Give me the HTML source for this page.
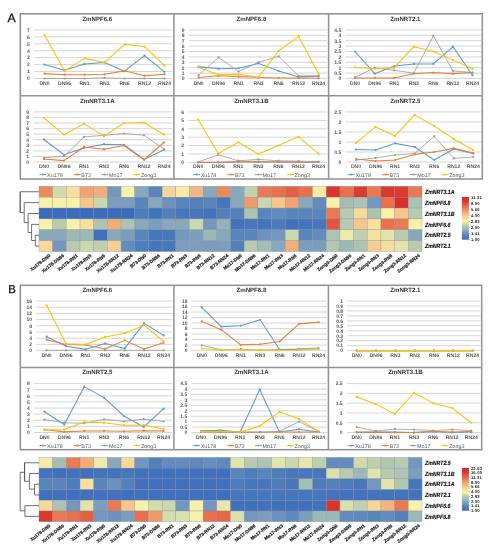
<!DOCTYPE html><html><head><meta charset="utf-8"><style>
html,body{margin:0;padding:0;background:#fff;width:492px;height:550px;overflow:hidden}
svg{display:block;will-change:transform}
text{font-family:"Liberation Sans", sans-serif;text-rendering:geometricPrecision}
.ttl{font-size:6.1px;font-weight:bold;fill:#333;text-anchor:middle}
.grid{stroke:#d3d3d3;stroke-width:0.95}
.yl{font-size:5px;fill:#595959;text-anchor:end;font-weight:bold}
.xl{font-size:5.1px;fill:#595959;text-anchor:middle;font-weight:bold}
.lg{font-size:5.4px;fill:#595959}
.rl{font-size:6px;font-weight:bold;font-style:italic;fill:#111;stroke:#111;stroke-width:0.15}
.cl{font-size:4.6px;font-weight:bold;fill:#222;text-anchor:end;stroke:#222;stroke-width:0.2}
.bl{font-size:4.2px;font-weight:bold;fill:#222;letter-spacing:0.15px}
.big{font-size:12.3px;fill:#111;stroke:#111;stroke-width:0.3}
.box{fill:none;stroke:#939393;stroke-width:1.55}
</style></head><body>
<svg width="492" height="550" viewBox="0 0 492 550">
<text x="7.6" y="22.2" class="big">A</text>
<text x="8.3" y="292.8" class="big" style="font-size:11.3px">B</text>
<rect x="20.3" y="13.8" width="462" height="165.2" class="box"/>
<line x1="173.9" y1="13.8" x2="173.9" y2="179" class="box"/>
<line x1="328.6" y1="13.8" x2="328.6" y2="179" class="box"/>
<line x1="20.3" y1="95.8" x2="482.3" y2="95.8" class="box"/>
<text x="97.3" y="21.1" class="ttl">ZmNPF6.6</text>
<line x1="34.0" y1="78.50" x2="172.3" y2="78.50" class="grid"/>
<text x="29.80" y="80.30" class="yl">0</text>
<line x1="34.0" y1="71.56" x2="172.3" y2="71.56" class="grid"/>
<text x="29.80" y="73.36" class="yl">1</text>
<line x1="34.0" y1="64.61" x2="172.3" y2="64.61" class="grid"/>
<text x="29.80" y="66.41" class="yl">2</text>
<line x1="34.0" y1="57.67" x2="172.3" y2="57.67" class="grid"/>
<text x="29.80" y="59.47" class="yl">3</text>
<line x1="34.0" y1="50.73" x2="172.3" y2="50.73" class="grid"/>
<text x="29.80" y="52.53" class="yl">4</text>
<line x1="34.0" y1="43.79" x2="172.3" y2="43.79" class="grid"/>
<text x="29.80" y="45.59" class="yl">5</text>
<line x1="34.0" y1="36.84" x2="172.3" y2="36.84" class="grid"/>
<text x="29.80" y="38.64" class="yl">6</text>
<line x1="34.0" y1="29.90" x2="172.3" y2="29.90" class="grid"/>
<text x="29.80" y="31.70" class="yl">7</text>
<text x="44.50" y="85.10" class="xl">DN0</text>
<text x="64.50" y="85.10" class="xl">DN96</text>
<text x="84.50" y="85.10" class="xl">RN1</text>
<text x="104.50" y="85.10" class="xl">RN3</text>
<text x="124.50" y="85.10" class="xl">RN6</text>
<text x="144.50" y="85.10" class="xl">RN12</text>
<text x="164.50" y="85.10" class="xl">RN24</text>
<polyline points="44.50,64.61 64.50,70.17 84.50,63.92 104.50,62.53 124.50,71.21 144.50,55.59 164.50,71.90" fill="none" stroke="#5b9bd5" stroke-width="1.05" stroke-linejoin="round"/>
<circle cx="44.50" cy="64.61" r="1.1" fill="#5b9bd5"/>
<circle cx="64.50" cy="70.17" r="1.1" fill="#5b9bd5"/>
<circle cx="84.50" cy="63.92" r="1.1" fill="#5b9bd5"/>
<circle cx="104.50" cy="62.53" r="1.1" fill="#5b9bd5"/>
<circle cx="124.50" cy="71.21" r="1.1" fill="#5b9bd5"/>
<circle cx="144.50" cy="55.59" r="1.1" fill="#5b9bd5"/>
<circle cx="164.50" cy="71.90" r="1.1" fill="#5b9bd5"/>
<polyline points="44.50,73.64 64.50,74.68 84.50,74.68 104.50,74.33 124.50,70.86 144.50,75.72 164.50,74.33" fill="none" stroke="#ed7d31" stroke-width="1.05" stroke-linejoin="round"/>
<circle cx="44.50" cy="73.64" r="1.1" fill="#ed7d31"/>
<circle cx="64.50" cy="74.68" r="1.1" fill="#ed7d31"/>
<circle cx="84.50" cy="74.68" r="1.1" fill="#ed7d31"/>
<circle cx="104.50" cy="74.33" r="1.1" fill="#ed7d31"/>
<circle cx="124.50" cy="70.86" r="1.1" fill="#ed7d31"/>
<circle cx="144.50" cy="75.72" r="1.1" fill="#ed7d31"/>
<circle cx="164.50" cy="74.33" r="1.1" fill="#ed7d31"/>
<polyline points="44.50,78.50 64.50,78.50 84.50,78.50 104.50,77.81 124.50,78.50 144.50,78.50 164.50,78.50" fill="none" stroke="#999999" stroke-width="0.8" stroke-linejoin="round"/>
<circle cx="44.50" cy="78.50" r="1.1" fill="#999999"/>
<circle cx="64.50" cy="78.50" r="1.1" fill="#999999"/>
<circle cx="84.50" cy="78.50" r="1.1" fill="#999999"/>
<circle cx="104.50" cy="77.81" r="1.1" fill="#999999"/>
<circle cx="124.50" cy="78.50" r="1.1" fill="#999999"/>
<circle cx="144.50" cy="78.50" r="1.1" fill="#999999"/>
<circle cx="164.50" cy="78.50" r="1.1" fill="#999999"/>
<polyline points="44.50,34.76 64.50,70.86 84.50,58.37 104.50,62.53 124.50,44.48 144.50,46.56 164.50,65.66" fill="none" stroke="#ffc000" stroke-width="1.05" stroke-linejoin="round"/>
<circle cx="44.50" cy="34.76" r="1.1" fill="#ffc000"/>
<circle cx="64.50" cy="70.86" r="1.1" fill="#ffc000"/>
<circle cx="84.50" cy="58.37" r="1.1" fill="#ffc000"/>
<circle cx="104.50" cy="62.53" r="1.1" fill="#ffc000"/>
<circle cx="124.50" cy="44.48" r="1.1" fill="#ffc000"/>
<circle cx="144.50" cy="46.56" r="1.1" fill="#ffc000"/>
<circle cx="164.50" cy="65.66" r="1.1" fill="#ffc000"/>
<text x="251.4" y="21.1" class="ttl">ZmNPF6.8</text>
<line x1="188.8" y1="78.50" x2="327.2" y2="78.50" class="grid"/>
<text x="184.60" y="80.30" class="yl">0</text>
<line x1="188.8" y1="73.10" x2="327.2" y2="73.10" class="grid"/>
<text x="184.60" y="74.90" class="yl">1</text>
<line x1="188.8" y1="67.70" x2="327.2" y2="67.70" class="grid"/>
<text x="184.60" y="69.50" class="yl">2</text>
<line x1="188.8" y1="62.30" x2="327.2" y2="62.30" class="grid"/>
<text x="184.60" y="64.10" class="yl">3</text>
<line x1="188.8" y1="56.90" x2="327.2" y2="56.90" class="grid"/>
<text x="184.60" y="58.70" class="yl">4</text>
<line x1="188.8" y1="51.50" x2="327.2" y2="51.50" class="grid"/>
<text x="184.60" y="53.30" class="yl">5</text>
<line x1="188.8" y1="46.10" x2="327.2" y2="46.10" class="grid"/>
<text x="184.60" y="47.90" class="yl">6</text>
<line x1="188.8" y1="40.70" x2="327.2" y2="40.70" class="grid"/>
<text x="184.60" y="42.50" class="yl">7</text>
<line x1="188.8" y1="35.30" x2="327.2" y2="35.30" class="grid"/>
<text x="184.60" y="37.10" class="yl">8</text>
<line x1="188.8" y1="29.90" x2="327.2" y2="29.90" class="grid"/>
<text x="184.60" y="31.70" class="yl">9</text>
<text x="198.60" y="85.10" class="xl">DN0</text>
<text x="218.60" y="85.10" class="xl">DN96</text>
<text x="238.60" y="85.10" class="xl">RN1</text>
<text x="258.60" y="85.10" class="xl">RN3</text>
<text x="278.60" y="85.10" class="xl">RN6</text>
<text x="298.60" y="85.10" class="xl">RN12</text>
<text x="318.60" y="85.10" class="xl">RN24</text>
<polyline points="198.60,66.62 218.60,68.78 238.60,68.24 258.60,63.38 278.60,70.94 298.60,76.88 318.60,76.34" fill="none" stroke="#5b9bd5" stroke-width="1.05" stroke-linejoin="round"/>
<circle cx="198.60" cy="66.62" r="1.1" fill="#5b9bd5"/>
<circle cx="218.60" cy="68.78" r="1.1" fill="#5b9bd5"/>
<circle cx="238.60" cy="68.24" r="1.1" fill="#5b9bd5"/>
<circle cx="258.60" cy="63.38" r="1.1" fill="#5b9bd5"/>
<circle cx="278.60" cy="70.94" r="1.1" fill="#5b9bd5"/>
<circle cx="298.60" cy="76.88" r="1.1" fill="#5b9bd5"/>
<circle cx="318.60" cy="76.34" r="1.1" fill="#5b9bd5"/>
<polyline points="198.60,77.42 218.60,75.80 238.60,76.61 258.60,77.42 278.60,77.96 298.60,77.96 318.60,78.23" fill="none" stroke="#ed7d31" stroke-width="1.05" stroke-linejoin="round"/>
<circle cx="198.60" cy="77.42" r="1.1" fill="#ed7d31"/>
<circle cx="218.60" cy="75.80" r="1.1" fill="#ed7d31"/>
<circle cx="238.60" cy="76.61" r="1.1" fill="#ed7d31"/>
<circle cx="258.60" cy="77.42" r="1.1" fill="#ed7d31"/>
<circle cx="278.60" cy="77.96" r="1.1" fill="#ed7d31"/>
<circle cx="298.60" cy="77.96" r="1.1" fill="#ed7d31"/>
<circle cx="318.60" cy="78.23" r="1.1" fill="#ed7d31"/>
<polyline points="198.60,75.26 218.60,57.44 238.60,71.48 258.60,62.30 278.60,56.36 298.60,75.80 318.60,75.80" fill="none" stroke="#999999" stroke-width="0.8" stroke-linejoin="round"/>
<circle cx="198.60" cy="75.26" r="1.1" fill="#999999"/>
<circle cx="218.60" cy="57.44" r="1.1" fill="#999999"/>
<circle cx="238.60" cy="71.48" r="1.1" fill="#999999"/>
<circle cx="258.60" cy="62.30" r="1.1" fill="#999999"/>
<circle cx="278.60" cy="56.36" r="1.1" fill="#999999"/>
<circle cx="298.60" cy="75.80" r="1.1" fill="#999999"/>
<circle cx="318.60" cy="75.80" r="1.1" fill="#999999"/>
<polyline points="198.60,67.16 218.60,74.72 238.60,74.18 258.60,77.15 278.60,50.96 298.60,36.38 318.60,73.64" fill="none" stroke="#ffc000" stroke-width="1.05" stroke-linejoin="round"/>
<circle cx="198.60" cy="67.16" r="1.1" fill="#ffc000"/>
<circle cx="218.60" cy="74.72" r="1.1" fill="#ffc000"/>
<circle cx="238.60" cy="74.18" r="1.1" fill="#ffc000"/>
<circle cx="258.60" cy="77.15" r="1.1" fill="#ffc000"/>
<circle cx="278.60" cy="50.96" r="1.1" fill="#ffc000"/>
<circle cx="298.60" cy="36.38" r="1.1" fill="#ffc000"/>
<circle cx="318.60" cy="73.64" r="1.1" fill="#ffc000"/>
<text x="405.4" y="21.1" class="ttl">ZmNRT2.1</text>
<line x1="345.4" y1="78.50" x2="481.3" y2="78.50" class="grid"/>
<text x="341.20" y="80.30" class="yl">0</text>
<line x1="345.4" y1="73.10" x2="481.3" y2="73.10" class="grid"/>
<text x="341.20" y="74.90" class="yl">0.5</text>
<line x1="345.4" y1="67.70" x2="481.3" y2="67.70" class="grid"/>
<text x="341.20" y="69.50" class="yl">1</text>
<line x1="345.4" y1="62.30" x2="481.3" y2="62.30" class="grid"/>
<text x="341.20" y="64.10" class="yl">1.5</text>
<line x1="345.4" y1="56.90" x2="481.3" y2="56.90" class="grid"/>
<text x="341.20" y="58.70" class="yl">2</text>
<line x1="345.4" y1="51.50" x2="481.3" y2="51.50" class="grid"/>
<text x="341.20" y="53.30" class="yl">2.5</text>
<line x1="345.4" y1="46.10" x2="481.3" y2="46.10" class="grid"/>
<text x="341.20" y="47.90" class="yl">3</text>
<line x1="345.4" y1="40.70" x2="481.3" y2="40.70" class="grid"/>
<text x="341.20" y="42.50" class="yl">3.5</text>
<line x1="345.4" y1="35.30" x2="481.3" y2="35.30" class="grid"/>
<text x="341.20" y="37.10" class="yl">4</text>
<line x1="345.4" y1="29.90" x2="481.3" y2="29.90" class="grid"/>
<text x="341.20" y="31.70" class="yl">4.5</text>
<text x="355.10" y="85.10" class="xl">DN0</text>
<text x="374.67" y="85.10" class="xl">DN96</text>
<text x="394.24" y="85.10" class="xl">RN1</text>
<text x="413.81" y="85.10" class="xl">RN3</text>
<text x="433.38" y="85.10" class="xl">RN6</text>
<text x="452.95" y="85.10" class="xl">RN12</text>
<text x="472.52" y="85.10" class="xl">RN24</text>
<polyline points="355.10,51.50 374.67,73.64 394.24,66.08 413.81,63.92 433.38,63.92 452.95,46.64 472.52,75.26" fill="none" stroke="#5b9bd5" stroke-width="1.05" stroke-linejoin="round"/>
<circle cx="355.10" cy="51.50" r="1.1" fill="#5b9bd5"/>
<circle cx="374.67" cy="73.64" r="1.1" fill="#5b9bd5"/>
<circle cx="394.24" cy="66.08" r="1.1" fill="#5b9bd5"/>
<circle cx="413.81" cy="63.92" r="1.1" fill="#5b9bd5"/>
<circle cx="433.38" cy="63.92" r="1.1" fill="#5b9bd5"/>
<circle cx="452.95" cy="46.64" r="1.1" fill="#5b9bd5"/>
<circle cx="472.52" cy="75.26" r="1.1" fill="#5b9bd5"/>
<polyline points="355.10,77.96 374.67,77.96 394.24,77.96 413.81,73.64 433.38,72.56 452.95,73.64 472.52,72.56" fill="none" stroke="#ed7d31" stroke-width="1.05" stroke-linejoin="round"/>
<circle cx="355.10" cy="77.96" r="1.1" fill="#ed7d31"/>
<circle cx="374.67" cy="77.96" r="1.1" fill="#ed7d31"/>
<circle cx="394.24" cy="77.96" r="1.1" fill="#ed7d31"/>
<circle cx="413.81" cy="73.64" r="1.1" fill="#ed7d31"/>
<circle cx="433.38" cy="72.56" r="1.1" fill="#ed7d31"/>
<circle cx="452.95" cy="73.64" r="1.1" fill="#ed7d31"/>
<circle cx="472.52" cy="72.56" r="1.1" fill="#ed7d31"/>
<polyline points="355.10,77.42 374.67,67.70 394.24,70.40 413.81,73.10 433.38,35.84 452.95,70.94 472.52,72.56" fill="none" stroke="#999999" stroke-width="0.8" stroke-linejoin="round"/>
<circle cx="355.10" cy="77.42" r="1.1" fill="#999999"/>
<circle cx="374.67" cy="67.70" r="1.1" fill="#999999"/>
<circle cx="394.24" cy="70.40" r="1.1" fill="#999999"/>
<circle cx="413.81" cy="73.10" r="1.1" fill="#999999"/>
<circle cx="433.38" cy="35.84" r="1.1" fill="#999999"/>
<circle cx="452.95" cy="70.94" r="1.1" fill="#999999"/>
<circle cx="472.52" cy="72.56" r="1.1" fill="#999999"/>
<polyline points="355.10,67.16 374.67,68.78 394.24,67.70 413.81,46.64 433.38,51.50 452.95,60.14 472.52,68.78" fill="none" stroke="#ffc000" stroke-width="1.05" stroke-linejoin="round"/>
<circle cx="355.10" cy="67.16" r="1.1" fill="#ffc000"/>
<circle cx="374.67" cy="68.78" r="1.1" fill="#ffc000"/>
<circle cx="394.24" cy="67.70" r="1.1" fill="#ffc000"/>
<circle cx="413.81" cy="46.64" r="1.1" fill="#ffc000"/>
<circle cx="433.38" cy="51.50" r="1.1" fill="#ffc000"/>
<circle cx="452.95" cy="60.14" r="1.1" fill="#ffc000"/>
<circle cx="472.52" cy="68.78" r="1.1" fill="#ffc000"/>
<text x="97.3" y="103.3" class="ttl">ZmNRT3.1A</text>
<line x1="33.3" y1="162.00" x2="172.3" y2="162.00" class="grid"/>
<text x="29.10" y="163.80" class="yl">0</text>
<line x1="33.3" y1="156.43" x2="172.3" y2="156.43" class="grid"/>
<text x="29.10" y="158.23" class="yl">1</text>
<line x1="33.3" y1="150.87" x2="172.3" y2="150.87" class="grid"/>
<text x="29.10" y="152.67" class="yl">2</text>
<line x1="33.3" y1="145.30" x2="172.3" y2="145.30" class="grid"/>
<text x="29.10" y="147.10" class="yl">3</text>
<line x1="33.3" y1="139.73" x2="172.3" y2="139.73" class="grid"/>
<text x="29.10" y="141.53" class="yl">4</text>
<line x1="33.3" y1="134.17" x2="172.3" y2="134.17" class="grid"/>
<text x="29.10" y="135.97" class="yl">5</text>
<line x1="33.3" y1="128.60" x2="172.3" y2="128.60" class="grid"/>
<text x="29.10" y="130.40" class="yl">6</text>
<line x1="33.3" y1="123.03" x2="172.3" y2="123.03" class="grid"/>
<text x="29.10" y="124.83" class="yl">7</text>
<line x1="33.3" y1="117.47" x2="172.3" y2="117.47" class="grid"/>
<text x="29.10" y="119.27" class="yl">8</text>
<line x1="33.3" y1="111.90" x2="172.3" y2="111.90" class="grid"/>
<text x="29.10" y="113.70" class="yl">9</text>
<text x="44.00" y="168.10" class="xl">DN0</text>
<text x="64.00" y="168.10" class="xl">DN96</text>
<text x="84.00" y="168.10" class="xl">RN1</text>
<text x="104.00" y="168.10" class="xl">RN3</text>
<text x="124.00" y="168.10" class="xl">RN6</text>
<text x="144.00" y="168.10" class="xl">RN12</text>
<text x="164.00" y="168.10" class="xl">RN24</text>
<polyline points="44.00,139.46 64.00,154.76 84.00,148.08 104.00,144.19 124.00,144.74 144.00,159.50 164.00,149.75" fill="none" stroke="#5b9bd5" stroke-width="1.05" stroke-linejoin="round"/>
<circle cx="44.00" cy="139.46" r="1.1" fill="#5b9bd5"/>
<circle cx="64.00" cy="154.76" r="1.1" fill="#5b9bd5"/>
<circle cx="84.00" cy="148.08" r="1.1" fill="#5b9bd5"/>
<circle cx="104.00" cy="144.19" r="1.1" fill="#5b9bd5"/>
<circle cx="124.00" cy="144.74" r="1.1" fill="#5b9bd5"/>
<circle cx="144.00" cy="159.50" r="1.1" fill="#5b9bd5"/>
<circle cx="164.00" cy="149.75" r="1.1" fill="#5b9bd5"/>
<polyline points="44.00,158.94 64.00,160.61 84.00,146.97 104.00,149.20 124.00,145.58 144.00,159.77 164.00,142.52" fill="none" stroke="#ed7d31" stroke-width="1.05" stroke-linejoin="round"/>
<circle cx="44.00" cy="158.94" r="1.1" fill="#ed7d31"/>
<circle cx="64.00" cy="160.61" r="1.1" fill="#ed7d31"/>
<circle cx="84.00" cy="146.97" r="1.1" fill="#ed7d31"/>
<circle cx="104.00" cy="149.20" r="1.1" fill="#ed7d31"/>
<circle cx="124.00" cy="145.58" r="1.1" fill="#ed7d31"/>
<circle cx="144.00" cy="159.77" r="1.1" fill="#ed7d31"/>
<circle cx="164.00" cy="142.52" r="1.1" fill="#ed7d31"/>
<polyline points="44.00,157.82 64.00,156.16 84.00,136.95 104.00,135.28 124.00,133.61 144.00,135.28 164.00,149.20" fill="none" stroke="#999999" stroke-width="0.8" stroke-linejoin="round"/>
<circle cx="44.00" cy="157.82" r="1.1" fill="#999999"/>
<circle cx="64.00" cy="156.16" r="1.1" fill="#999999"/>
<circle cx="84.00" cy="136.95" r="1.1" fill="#999999"/>
<circle cx="104.00" cy="135.28" r="1.1" fill="#999999"/>
<circle cx="124.00" cy="133.61" r="1.1" fill="#999999"/>
<circle cx="144.00" cy="135.28" r="1.1" fill="#999999"/>
<circle cx="164.00" cy="149.20" r="1.1" fill="#999999"/>
<polyline points="44.00,118.02 64.00,134.72 84.00,123.59 104.00,136.39 124.00,123.03 144.00,122.48 164.00,134.72" fill="none" stroke="#ffc000" stroke-width="1.05" stroke-linejoin="round"/>
<circle cx="44.00" cy="118.02" r="1.1" fill="#ffc000"/>
<circle cx="64.00" cy="134.72" r="1.1" fill="#ffc000"/>
<circle cx="84.00" cy="123.59" r="1.1" fill="#ffc000"/>
<circle cx="104.00" cy="136.39" r="1.1" fill="#ffc000"/>
<circle cx="124.00" cy="123.03" r="1.1" fill="#ffc000"/>
<circle cx="144.00" cy="122.48" r="1.1" fill="#ffc000"/>
<circle cx="164.00" cy="134.72" r="1.1" fill="#ffc000"/>
<line x1="39.40" y1="174.6" x2="46.40" y2="174.6" stroke="#5b9bd5" stroke-width="1"/>
<circle cx="42.90" cy="174.6" r="1" fill="#5b9bd5"/>
<text x="47.10" y="176.50" class="lg">Xu178</text>
<line x1="73.70" y1="174.6" x2="80.70" y2="174.6" stroke="#ed7d31" stroke-width="1"/>
<circle cx="77.20" cy="174.6" r="1" fill="#ed7d31"/>
<text x="81.30" y="176.50" class="lg">B73</text>
<line x1="101.40" y1="174.6" x2="108.40" y2="174.6" stroke="#999999" stroke-width="1"/>
<circle cx="104.90" cy="174.6" r="1" fill="#999999"/>
<text x="109.00" y="176.50" class="lg">Mo17</text>
<line x1="133.40" y1="174.6" x2="140.40" y2="174.6" stroke="#ffc000" stroke-width="1"/>
<circle cx="136.90" cy="174.6" r="1" fill="#ffc000"/>
<text x="141.00" y="176.50" class="lg">Zong3</text>
<text x="251.4" y="103.3" class="ttl">ZmNRT3.1B</text>
<line x1="188.3" y1="162.40" x2="327.2" y2="162.40" class="grid"/>
<text x="184.10" y="164.20" class="yl">0</text>
<line x1="188.3" y1="154.00" x2="327.2" y2="154.00" class="grid"/>
<text x="184.10" y="155.80" class="yl">1</text>
<line x1="188.3" y1="145.60" x2="327.2" y2="145.60" class="grid"/>
<text x="184.10" y="147.40" class="yl">2</text>
<line x1="188.3" y1="137.20" x2="327.2" y2="137.20" class="grid"/>
<text x="184.10" y="139.00" class="yl">3</text>
<line x1="188.3" y1="128.80" x2="327.2" y2="128.80" class="grid"/>
<text x="184.10" y="130.60" class="yl">4</text>
<line x1="188.3" y1="120.40" x2="327.2" y2="120.40" class="grid"/>
<text x="184.10" y="122.20" class="yl">5</text>
<line x1="188.3" y1="112.00" x2="327.2" y2="112.00" class="grid"/>
<text x="184.10" y="113.80" class="yl">6</text>
<text x="198.20" y="168.10" class="xl">DN0</text>
<text x="218.25" y="168.10" class="xl">DN96</text>
<text x="238.30" y="168.10" class="xl">RN1</text>
<text x="258.35" y="168.10" class="xl">RN3</text>
<text x="278.40" y="168.10" class="xl">RN6</text>
<text x="298.45" y="168.10" class="xl">RN12</text>
<text x="318.50" y="168.10" class="xl">RN24</text>
<polyline points="198.20,162.40 218.25,162.40 238.30,161.98 258.35,161.98 278.40,161.98 298.45,161.98 318.50,161.98" fill="none" stroke="#5b9bd5" stroke-width="1.05" stroke-linejoin="round"/>
<circle cx="198.20" cy="162.40" r="1.1" fill="#5b9bd5"/>
<circle cx="218.25" cy="162.40" r="1.1" fill="#5b9bd5"/>
<circle cx="238.30" cy="161.98" r="1.1" fill="#5b9bd5"/>
<circle cx="258.35" cy="161.98" r="1.1" fill="#5b9bd5"/>
<circle cx="278.40" cy="161.98" r="1.1" fill="#5b9bd5"/>
<circle cx="298.45" cy="161.98" r="1.1" fill="#5b9bd5"/>
<circle cx="318.50" cy="161.98" r="1.1" fill="#5b9bd5"/>
<polyline points="198.20,162.23 218.25,162.23 238.30,161.56 258.35,161.56 278.40,161.98 298.45,161.98 318.50,161.98" fill="none" stroke="#ed7d31" stroke-width="1.05" stroke-linejoin="round"/>
<circle cx="198.20" cy="162.23" r="1.1" fill="#ed7d31"/>
<circle cx="218.25" cy="162.23" r="1.1" fill="#ed7d31"/>
<circle cx="238.30" cy="161.56" r="1.1" fill="#ed7d31"/>
<circle cx="258.35" cy="161.56" r="1.1" fill="#ed7d31"/>
<circle cx="278.40" cy="161.98" r="1.1" fill="#ed7d31"/>
<circle cx="298.45" cy="161.98" r="1.1" fill="#ed7d31"/>
<circle cx="318.50" cy="161.98" r="1.1" fill="#ed7d31"/>
<polyline points="198.20,161.98 218.25,154.84 238.30,160.72 258.35,159.46 278.40,160.72 298.45,161.14 318.50,161.56" fill="none" stroke="#999999" stroke-width="0.8" stroke-linejoin="round"/>
<circle cx="198.20" cy="161.98" r="1.1" fill="#999999"/>
<circle cx="218.25" cy="154.84" r="1.1" fill="#999999"/>
<circle cx="238.30" cy="160.72" r="1.1" fill="#999999"/>
<circle cx="258.35" cy="159.46" r="1.1" fill="#999999"/>
<circle cx="278.40" cy="160.72" r="1.1" fill="#999999"/>
<circle cx="298.45" cy="161.14" r="1.1" fill="#999999"/>
<circle cx="318.50" cy="161.56" r="1.1" fill="#999999"/>
<polyline points="198.20,119.56 218.25,153.58 238.30,142.24 258.35,154.00 278.40,145.60 298.45,136.78 318.50,153.58" fill="none" stroke="#ffc000" stroke-width="1.05" stroke-linejoin="round"/>
<circle cx="198.20" cy="119.56" r="1.1" fill="#ffc000"/>
<circle cx="218.25" cy="153.58" r="1.1" fill="#ffc000"/>
<circle cx="238.30" cy="142.24" r="1.1" fill="#ffc000"/>
<circle cx="258.35" cy="154.00" r="1.1" fill="#ffc000"/>
<circle cx="278.40" cy="145.60" r="1.1" fill="#ffc000"/>
<circle cx="298.45" cy="136.78" r="1.1" fill="#ffc000"/>
<circle cx="318.50" cy="153.58" r="1.1" fill="#ffc000"/>
<line x1="193.00" y1="174.6" x2="200.00" y2="174.6" stroke="#5b9bd5" stroke-width="1"/>
<circle cx="196.50" cy="174.6" r="1" fill="#5b9bd5"/>
<text x="200.70" y="176.50" class="lg">Xu178</text>
<line x1="227.30" y1="174.6" x2="234.30" y2="174.6" stroke="#ed7d31" stroke-width="1"/>
<circle cx="230.80" cy="174.6" r="1" fill="#ed7d31"/>
<text x="234.90" y="176.50" class="lg">B73</text>
<line x1="255.00" y1="174.6" x2="262.00" y2="174.6" stroke="#999999" stroke-width="1"/>
<circle cx="258.50" cy="174.6" r="1" fill="#999999"/>
<text x="262.60" y="176.50" class="lg">Mo17</text>
<line x1="287.00" y1="174.6" x2="294.00" y2="174.6" stroke="#ffc000" stroke-width="1"/>
<circle cx="290.50" cy="174.6" r="1" fill="#ffc000"/>
<text x="294.60" y="176.50" class="lg">Zong3</text>
<text x="405.4" y="103.3" class="ttl">ZmNRT2.5</text>
<line x1="345.4" y1="162.00" x2="481.3" y2="162.00" class="grid"/>
<text x="341.20" y="163.80" class="yl">0</text>
<line x1="345.4" y1="151.98" x2="481.3" y2="151.98" class="grid"/>
<text x="341.20" y="153.78" class="yl">0.5</text>
<line x1="345.4" y1="141.96" x2="481.3" y2="141.96" class="grid"/>
<text x="341.20" y="143.76" class="yl">1</text>
<line x1="345.4" y1="131.94" x2="481.3" y2="131.94" class="grid"/>
<text x="341.20" y="133.74" class="yl">1.5</text>
<line x1="345.4" y1="121.92" x2="481.3" y2="121.92" class="grid"/>
<text x="341.20" y="123.72" class="yl">2</text>
<line x1="345.4" y1="111.90" x2="481.3" y2="111.90" class="grid"/>
<text x="341.20" y="113.70" class="yl">2.5</text>
<text x="356.00" y="168.10" class="xl">DN0</text>
<text x="375.55" y="168.10" class="xl">DN96</text>
<text x="395.10" y="168.10" class="xl">RN1</text>
<text x="414.65" y="168.10" class="xl">RN3</text>
<text x="434.20" y="168.10" class="xl">RN6</text>
<text x="453.75" y="168.10" class="xl">RN12</text>
<text x="473.30" y="168.10" class="xl">RN24</text>
<polyline points="356.00,149.58 375.55,149.98 395.10,143.36 414.65,146.97 434.20,160.00 453.75,148.97 473.30,153.58" fill="none" stroke="#5b9bd5" stroke-width="1.05" stroke-linejoin="round"/>
<circle cx="356.00" cy="149.58" r="1.1" fill="#5b9bd5"/>
<circle cx="375.55" cy="149.98" r="1.1" fill="#5b9bd5"/>
<circle cx="395.10" cy="143.36" r="1.1" fill="#5b9bd5"/>
<circle cx="414.65" cy="146.97" r="1.1" fill="#5b9bd5"/>
<circle cx="434.20" cy="160.00" r="1.1" fill="#5b9bd5"/>
<circle cx="453.75" cy="148.97" r="1.1" fill="#5b9bd5"/>
<circle cx="473.30" cy="153.58" r="1.1" fill="#5b9bd5"/>
<polyline points="356.00,158.99 375.55,161.00 395.10,160.00 414.65,154.38 434.20,151.98 453.75,148.37 473.30,152.98" fill="none" stroke="#ed7d31" stroke-width="1.05" stroke-linejoin="round"/>
<circle cx="356.00" cy="158.99" r="1.1" fill="#ed7d31"/>
<circle cx="375.55" cy="161.00" r="1.1" fill="#ed7d31"/>
<circle cx="395.10" cy="160.00" r="1.1" fill="#ed7d31"/>
<circle cx="414.65" cy="154.38" r="1.1" fill="#ed7d31"/>
<circle cx="434.20" cy="151.98" r="1.1" fill="#ed7d31"/>
<circle cx="453.75" cy="148.37" r="1.1" fill="#ed7d31"/>
<circle cx="473.30" cy="152.98" r="1.1" fill="#ed7d31"/>
<polyline points="356.00,160.00 375.55,157.99 395.10,154.99 414.65,153.58 434.20,136.35 453.75,158.39 473.30,156.99" fill="none" stroke="#999999" stroke-width="0.8" stroke-linejoin="round"/>
<circle cx="356.00" cy="160.00" r="1.1" fill="#999999"/>
<circle cx="375.55" cy="157.99" r="1.1" fill="#999999"/>
<circle cx="395.10" cy="154.99" r="1.1" fill="#999999"/>
<circle cx="414.65" cy="153.58" r="1.1" fill="#999999"/>
<circle cx="434.20" cy="136.35" r="1.1" fill="#999999"/>
<circle cx="453.75" cy="158.39" r="1.1" fill="#999999"/>
<circle cx="473.30" cy="156.99" r="1.1" fill="#999999"/>
<polyline points="356.00,142.96 375.55,126.93 395.10,135.95 414.65,114.91 434.20,125.93 453.75,138.95 473.30,149.98" fill="none" stroke="#ffc000" stroke-width="1.05" stroke-linejoin="round"/>
<circle cx="356.00" cy="142.96" r="1.1" fill="#ffc000"/>
<circle cx="375.55" cy="126.93" r="1.1" fill="#ffc000"/>
<circle cx="395.10" cy="135.95" r="1.1" fill="#ffc000"/>
<circle cx="414.65" cy="114.91" r="1.1" fill="#ffc000"/>
<circle cx="434.20" cy="125.93" r="1.1" fill="#ffc000"/>
<circle cx="453.75" cy="138.95" r="1.1" fill="#ffc000"/>
<circle cx="473.30" cy="149.98" r="1.1" fill="#ffc000"/>
<line x1="347.70" y1="174.6" x2="354.70" y2="174.6" stroke="#5b9bd5" stroke-width="1"/>
<circle cx="351.20" cy="174.6" r="1" fill="#5b9bd5"/>
<text x="355.40" y="176.50" class="lg">Xu178</text>
<line x1="382.00" y1="174.6" x2="389.00" y2="174.6" stroke="#ed7d31" stroke-width="1"/>
<circle cx="385.50" cy="174.6" r="1" fill="#ed7d31"/>
<text x="389.60" y="176.50" class="lg">B73</text>
<line x1="409.70" y1="174.6" x2="416.70" y2="174.6" stroke="#999999" stroke-width="1"/>
<circle cx="413.20" cy="174.6" r="1" fill="#999999"/>
<text x="417.30" y="176.50" class="lg">Mo17</text>
<line x1="441.70" y1="174.6" x2="448.70" y2="174.6" stroke="#ffc000" stroke-width="1"/>
<circle cx="445.20" cy="174.6" r="1" fill="#ffc000"/>
<text x="449.30" y="176.50" class="lg">Zong3</text>
<rect x="39.00" y="186.30" width="13.68" height="10.88" fill="#ec8a5f" stroke="#7f8a94" stroke-width="0.3"/>
<rect x="52.68" y="186.30" width="13.68" height="10.88" fill="#d0daad" stroke="#7f8a94" stroke-width="0.3"/>
<rect x="66.36" y="186.30" width="13.68" height="10.88" fill="#f8dd9c" stroke="#7f8a94" stroke-width="0.3"/>
<rect x="80.04" y="186.30" width="13.68" height="10.88" fill="#f1a472" stroke="#7f8a94" stroke-width="0.3"/>
<rect x="93.72" y="186.30" width="13.68" height="10.88" fill="#f2ad78" stroke="#7f8a94" stroke-width="0.3"/>
<rect x="107.40" y="186.30" width="13.68" height="10.88" fill="#7497c0" stroke="#7f8a94" stroke-width="0.3"/>
<rect x="121.08" y="186.30" width="13.68" height="10.88" fill="#f9f1aa" stroke="#7f8a94" stroke-width="0.3"/>
<rect x="134.76" y="186.30" width="13.68" height="10.88" fill="#88a8bb" stroke="#7f8a94" stroke-width="0.3"/>
<rect x="148.44" y="186.30" width="13.68" height="10.88" fill="#5885bb" stroke="#7f8a94" stroke-width="0.3"/>
<rect x="162.12" y="186.30" width="13.68" height="10.88" fill="#f8d697" stroke="#7f8a94" stroke-width="0.3"/>
<rect x="175.80" y="186.30" width="13.68" height="10.88" fill="#f9eaa5" stroke="#7f8a94" stroke-width="0.3"/>
<rect x="189.48" y="186.30" width="13.68" height="10.88" fill="#f4b57f" stroke="#7f8a94" stroke-width="0.3"/>
<rect x="203.16" y="186.30" width="13.68" height="10.88" fill="#88a8bb" stroke="#7f8a94" stroke-width="0.3"/>
<rect x="216.84" y="186.30" width="13.68" height="10.88" fill="#ec8a5f" stroke="#7f8a94" stroke-width="0.3"/>
<rect x="230.52" y="186.30" width="13.68" height="10.88" fill="#88a8bb" stroke="#7f8a94" stroke-width="0.3"/>
<rect x="244.20" y="186.30" width="13.68" height="10.88" fill="#bfd0ae" stroke="#7f8a94" stroke-width="0.3"/>
<rect x="257.88" y="186.30" width="13.68" height="10.88" fill="#ea7a54" stroke="#7f8a94" stroke-width="0.3"/>
<rect x="271.56" y="186.30" width="13.68" height="10.88" fill="#e8704c" stroke="#7f8a94" stroke-width="0.3"/>
<rect x="285.24" y="186.30" width="13.68" height="10.88" fill="#e46044" stroke="#7f8a94" stroke-width="0.3"/>
<rect x="298.92" y="186.30" width="13.68" height="10.88" fill="#e8704c" stroke="#7f8a94" stroke-width="0.3"/>
<rect x="312.60" y="186.30" width="13.68" height="10.88" fill="#f9eaa5" stroke="#7f8a94" stroke-width="0.3"/>
<rect x="326.28" y="186.30" width="13.68" height="10.88" fill="#da352e" stroke="#7f8a94" stroke-width="0.3"/>
<rect x="339.96" y="186.30" width="13.68" height="10.88" fill="#e8704c" stroke="#7f8a94" stroke-width="0.3"/>
<rect x="353.64" y="186.30" width="13.68" height="10.88" fill="#dc3c30" stroke="#7f8a94" stroke-width="0.3"/>
<rect x="367.32" y="186.30" width="13.68" height="10.88" fill="#ea7a54" stroke="#7f8a94" stroke-width="0.3"/>
<rect x="381.00" y="186.30" width="13.68" height="10.88" fill="#da372e" stroke="#7f8a94" stroke-width="0.3"/>
<rect x="394.68" y="186.30" width="13.68" height="10.88" fill="#dc3c30" stroke="#7f8a94" stroke-width="0.3"/>
<rect x="408.36" y="186.30" width="13.68" height="10.88" fill="#ea7a54" stroke="#7f8a94" stroke-width="0.3"/>
<rect x="39.00" y="197.18" width="13.68" height="10.88" fill="#f9f1aa" stroke="#7f8a94" stroke-width="0.3"/>
<rect x="52.68" y="197.18" width="13.68" height="10.88" fill="#f9f1aa" stroke="#7f8a94" stroke-width="0.3"/>
<rect x="66.36" y="197.18" width="13.68" height="10.88" fill="#f9f1aa" stroke="#7f8a94" stroke-width="0.3"/>
<rect x="80.04" y="197.18" width="13.68" height="10.88" fill="#f7c68c" stroke="#7f8a94" stroke-width="0.3"/>
<rect x="93.72" y="197.18" width="13.68" height="10.88" fill="#cbd7ad" stroke="#7f8a94" stroke-width="0.3"/>
<rect x="107.40" y="197.18" width="13.68" height="10.88" fill="#7c9ebe" stroke="#7f8a94" stroke-width="0.3"/>
<rect x="121.08" y="197.18" width="13.68" height="10.88" fill="#7c9ebe" stroke="#7f8a94" stroke-width="0.3"/>
<rect x="134.76" y="197.18" width="13.68" height="10.88" fill="#5885bb" stroke="#7f8a94" stroke-width="0.3"/>
<rect x="148.44" y="197.18" width="13.68" height="10.88" fill="#88a8bb" stroke="#7f8a94" stroke-width="0.3"/>
<rect x="162.12" y="197.18" width="13.68" height="10.88" fill="#6d92bf" stroke="#7f8a94" stroke-width="0.3"/>
<rect x="175.80" y="197.18" width="13.68" height="10.88" fill="#5885bb" stroke="#7f8a94" stroke-width="0.3"/>
<rect x="189.48" y="197.18" width="13.68" height="10.88" fill="#5180ba" stroke="#7f8a94" stroke-width="0.3"/>
<rect x="203.16" y="197.18" width="13.68" height="10.88" fill="#5885bb" stroke="#7f8a94" stroke-width="0.3"/>
<rect x="216.84" y="197.18" width="13.68" height="10.88" fill="#4676bc" stroke="#7f8a94" stroke-width="0.3"/>
<rect x="230.52" y="197.18" width="13.68" height="10.88" fill="#88a8bb" stroke="#7f8a94" stroke-width="0.3"/>
<rect x="244.20" y="197.18" width="13.68" height="10.88" fill="#ef9a6a" stroke="#7f8a94" stroke-width="0.3"/>
<rect x="257.88" y="197.18" width="13.68" height="10.88" fill="#cbd7ad" stroke="#7f8a94" stroke-width="0.3"/>
<rect x="271.56" y="197.18" width="13.68" height="10.88" fill="#f7c68c" stroke="#7f8a94" stroke-width="0.3"/>
<rect x="285.24" y="197.18" width="13.68" height="10.88" fill="#f1a472" stroke="#7f8a94" stroke-width="0.3"/>
<rect x="298.92" y="197.18" width="13.68" height="10.88" fill="#88a8bb" stroke="#7f8a94" stroke-width="0.3"/>
<rect x="312.60" y="197.18" width="13.68" height="10.88" fill="#628cbd" stroke="#7f8a94" stroke-width="0.3"/>
<rect x="326.28" y="197.18" width="13.68" height="10.88" fill="#f9f1aa" stroke="#7f8a94" stroke-width="0.3"/>
<rect x="339.96" y="197.18" width="13.68" height="10.88" fill="#a4beb4" stroke="#7f8a94" stroke-width="0.3"/>
<rect x="353.64" y="197.18" width="13.68" height="10.88" fill="#aec4b2" stroke="#7f8a94" stroke-width="0.3"/>
<rect x="367.32" y="197.18" width="13.68" height="10.88" fill="#7497c0" stroke="#7f8a94" stroke-width="0.3"/>
<rect x="381.00" y="197.18" width="13.68" height="10.88" fill="#e8704c" stroke="#7f8a94" stroke-width="0.3"/>
<rect x="394.68" y="197.18" width="13.68" height="10.88" fill="#d8302c" stroke="#7f8a94" stroke-width="0.3"/>
<rect x="408.36" y="197.18" width="13.68" height="10.88" fill="#aec4b2" stroke="#7f8a94" stroke-width="0.3"/>
<rect x="39.00" y="208.06" width="13.68" height="10.88" fill="#3a6bbd" stroke="#7f8a94" stroke-width="0.3"/>
<rect x="52.68" y="208.06" width="13.68" height="10.88" fill="#3a6bbd" stroke="#7f8a94" stroke-width="0.3"/>
<rect x="66.36" y="208.06" width="13.68" height="10.88" fill="#3a6bbd" stroke="#7f8a94" stroke-width="0.3"/>
<rect x="80.04" y="208.06" width="13.68" height="10.88" fill="#3a6bbd" stroke="#7f8a94" stroke-width="0.3"/>
<rect x="93.72" y="208.06" width="13.68" height="10.88" fill="#3a6bbd" stroke="#7f8a94" stroke-width="0.3"/>
<rect x="107.40" y="208.06" width="13.68" height="10.88" fill="#3a6bbd" stroke="#7f8a94" stroke-width="0.3"/>
<rect x="121.08" y="208.06" width="13.68" height="10.88" fill="#3a6bbd" stroke="#7f8a94" stroke-width="0.3"/>
<rect x="134.76" y="208.06" width="13.68" height="10.88" fill="#4c7cbb" stroke="#7f8a94" stroke-width="0.3"/>
<rect x="148.44" y="208.06" width="13.68" height="10.88" fill="#4373bc" stroke="#7f8a94" stroke-width="0.3"/>
<rect x="162.12" y="208.06" width="13.68" height="10.88" fill="#5180ba" stroke="#7f8a94" stroke-width="0.3"/>
<rect x="175.80" y="208.06" width="13.68" height="10.88" fill="#4676bc" stroke="#7f8a94" stroke-width="0.3"/>
<rect x="189.48" y="208.06" width="13.68" height="10.88" fill="#4676bc" stroke="#7f8a94" stroke-width="0.3"/>
<rect x="203.16" y="208.06" width="13.68" height="10.88" fill="#4373bc" stroke="#7f8a94" stroke-width="0.3"/>
<rect x="216.84" y="208.06" width="13.68" height="10.88" fill="#5180ba" stroke="#7f8a94" stroke-width="0.3"/>
<rect x="230.52" y="208.06" width="13.68" height="10.88" fill="#5180ba" stroke="#7f8a94" stroke-width="0.3"/>
<rect x="244.20" y="208.06" width="13.68" height="10.88" fill="#aec4b2" stroke="#7f8a94" stroke-width="0.3"/>
<rect x="257.88" y="208.06" width="13.68" height="10.88" fill="#5885bb" stroke="#7f8a94" stroke-width="0.3"/>
<rect x="271.56" y="208.06" width="13.68" height="10.88" fill="#628cbd" stroke="#7f8a94" stroke-width="0.3"/>
<rect x="285.24" y="208.06" width="13.68" height="10.88" fill="#5885bb" stroke="#7f8a94" stroke-width="0.3"/>
<rect x="298.92" y="208.06" width="13.68" height="10.88" fill="#5885bb" stroke="#7f8a94" stroke-width="0.3"/>
<rect x="312.60" y="208.06" width="13.68" height="10.88" fill="#5885bb" stroke="#7f8a94" stroke-width="0.3"/>
<rect x="326.28" y="208.06" width="13.68" height="10.88" fill="#ea7a54" stroke="#7f8a94" stroke-width="0.3"/>
<rect x="339.96" y="208.06" width="13.68" height="10.88" fill="#b8cbb0" stroke="#7f8a94" stroke-width="0.3"/>
<rect x="353.64" y="208.06" width="13.68" height="10.88" fill="#f8d999" stroke="#7f8a94" stroke-width="0.3"/>
<rect x="367.32" y="208.06" width="13.68" height="10.88" fill="#aec4b2" stroke="#7f8a94" stroke-width="0.3"/>
<rect x="381.00" y="208.06" width="13.68" height="10.88" fill="#f9f1aa" stroke="#7f8a94" stroke-width="0.3"/>
<rect x="394.68" y="208.06" width="13.68" height="10.88" fill="#f7c68c" stroke="#7f8a94" stroke-width="0.3"/>
<rect x="408.36" y="208.06" width="13.68" height="10.88" fill="#b8cbb0" stroke="#7f8a94" stroke-width="0.3"/>
<rect x="39.00" y="218.94" width="13.68" height="10.88" fill="#f9f1aa" stroke="#7f8a94" stroke-width="0.3"/>
<rect x="52.68" y="218.94" width="13.68" height="10.88" fill="#b8cbb0" stroke="#7f8a94" stroke-width="0.3"/>
<rect x="66.36" y="218.94" width="13.68" height="10.88" fill="#f9f1aa" stroke="#7f8a94" stroke-width="0.3"/>
<rect x="80.04" y="218.94" width="13.68" height="10.88" fill="#f8e09e" stroke="#7f8a94" stroke-width="0.3"/>
<rect x="93.72" y="218.94" width="13.68" height="10.88" fill="#aec4b2" stroke="#7f8a94" stroke-width="0.3"/>
<rect x="107.40" y="218.94" width="13.68" height="10.88" fill="#f2ad78" stroke="#7f8a94" stroke-width="0.3"/>
<rect x="121.08" y="218.94" width="13.68" height="10.88" fill="#aec4b2" stroke="#7f8a94" stroke-width="0.3"/>
<rect x="134.76" y="218.94" width="13.68" height="10.88" fill="#88a8bb" stroke="#7f8a94" stroke-width="0.3"/>
<rect x="148.44" y="218.94" width="13.68" height="10.88" fill="#7c9ebe" stroke="#7f8a94" stroke-width="0.3"/>
<rect x="162.12" y="218.94" width="13.68" height="10.88" fill="#88a8bb" stroke="#7f8a94" stroke-width="0.3"/>
<rect x="175.80" y="218.94" width="13.68" height="10.88" fill="#88a8bb" stroke="#7f8a94" stroke-width="0.3"/>
<rect x="189.48" y="218.94" width="13.68" height="10.88" fill="#cbd7ad" stroke="#7f8a94" stroke-width="0.3"/>
<rect x="203.16" y="218.94" width="13.68" height="10.88" fill="#7497c0" stroke="#7f8a94" stroke-width="0.3"/>
<rect x="216.84" y="218.94" width="13.68" height="10.88" fill="#95b2b8" stroke="#7f8a94" stroke-width="0.3"/>
<rect x="230.52" y="218.94" width="13.68" height="10.88" fill="#4373bc" stroke="#7f8a94" stroke-width="0.3"/>
<rect x="244.20" y="218.94" width="13.68" height="10.88" fill="#4676bc" stroke="#7f8a94" stroke-width="0.3"/>
<rect x="257.88" y="218.94" width="13.68" height="10.88" fill="#4373bc" stroke="#7f8a94" stroke-width="0.3"/>
<rect x="271.56" y="218.94" width="13.68" height="10.88" fill="#4c7cbb" stroke="#7f8a94" stroke-width="0.3"/>
<rect x="285.24" y="218.94" width="13.68" height="10.88" fill="#4171bc" stroke="#7f8a94" stroke-width="0.3"/>
<rect x="298.92" y="218.94" width="13.68" height="10.88" fill="#4373bc" stroke="#7f8a94" stroke-width="0.3"/>
<rect x="312.60" y="218.94" width="13.68" height="10.88" fill="#4676bc" stroke="#7f8a94" stroke-width="0.3"/>
<rect x="326.28" y="218.94" width="13.68" height="10.88" fill="#e2563e" stroke="#7f8a94" stroke-width="0.3"/>
<rect x="339.96" y="218.94" width="13.68" height="10.88" fill="#b8cbb0" stroke="#7f8a94" stroke-width="0.3"/>
<rect x="353.64" y="218.94" width="13.68" height="10.88" fill="#f7c68c" stroke="#7f8a94" stroke-width="0.3"/>
<rect x="367.32" y="218.94" width="13.68" height="10.88" fill="#f8e09e" stroke="#7f8a94" stroke-width="0.3"/>
<rect x="381.00" y="218.94" width="13.68" height="10.88" fill="#e8704c" stroke="#7f8a94" stroke-width="0.3"/>
<rect x="394.68" y="218.94" width="13.68" height="10.88" fill="#ea7a54" stroke="#7f8a94" stroke-width="0.3"/>
<rect x="408.36" y="218.94" width="13.68" height="10.88" fill="#f9f1aa" stroke="#7f8a94" stroke-width="0.3"/>
<rect x="39.00" y="229.82" width="13.68" height="10.88" fill="#88a8bb" stroke="#7f8a94" stroke-width="0.3"/>
<rect x="52.68" y="229.82" width="13.68" height="10.88" fill="#88a8bb" stroke="#7f8a94" stroke-width="0.3"/>
<rect x="66.36" y="229.82" width="13.68" height="10.88" fill="#9db9b6" stroke="#7f8a94" stroke-width="0.3"/>
<rect x="80.04" y="229.82" width="13.68" height="10.88" fill="#9db9b6" stroke="#7f8a94" stroke-width="0.3"/>
<rect x="93.72" y="229.82" width="13.68" height="10.88" fill="#4171bc" stroke="#7f8a94" stroke-width="0.3"/>
<rect x="107.40" y="229.82" width="13.68" height="10.88" fill="#88a8bb" stroke="#7f8a94" stroke-width="0.3"/>
<rect x="121.08" y="229.82" width="13.68" height="10.88" fill="#7c9ebe" stroke="#7f8a94" stroke-width="0.3"/>
<rect x="134.76" y="229.82" width="13.68" height="10.88" fill="#5885bb" stroke="#7f8a94" stroke-width="0.3"/>
<rect x="148.44" y="229.82" width="13.68" height="10.88" fill="#4676bc" stroke="#7f8a94" stroke-width="0.3"/>
<rect x="162.12" y="229.82" width="13.68" height="10.88" fill="#4878bb" stroke="#7f8a94" stroke-width="0.3"/>
<rect x="175.80" y="229.82" width="13.68" height="10.88" fill="#7497c0" stroke="#7f8a94" stroke-width="0.3"/>
<rect x="189.48" y="229.82" width="13.68" height="10.88" fill="#7c9ebe" stroke="#7f8a94" stroke-width="0.3"/>
<rect x="203.16" y="229.82" width="13.68" height="10.88" fill="#9db9b6" stroke="#7f8a94" stroke-width="0.3"/>
<rect x="216.84" y="229.82" width="13.68" height="10.88" fill="#88a8bb" stroke="#7f8a94" stroke-width="0.3"/>
<rect x="230.52" y="229.82" width="13.68" height="10.88" fill="#5885bb" stroke="#7f8a94" stroke-width="0.3"/>
<rect x="244.20" y="229.82" width="13.68" height="10.88" fill="#5885bb" stroke="#7f8a94" stroke-width="0.3"/>
<rect x="257.88" y="229.82" width="13.68" height="10.88" fill="#6d92bf" stroke="#7f8a94" stroke-width="0.3"/>
<rect x="271.56" y="229.82" width="13.68" height="10.88" fill="#7497c0" stroke="#7f8a94" stroke-width="0.3"/>
<rect x="285.24" y="229.82" width="13.68" height="10.88" fill="#cbd7ad" stroke="#7f8a94" stroke-width="0.3"/>
<rect x="298.92" y="229.82" width="13.68" height="10.88" fill="#5885bb" stroke="#7f8a94" stroke-width="0.3"/>
<rect x="312.60" y="229.82" width="13.68" height="10.88" fill="#628cbd" stroke="#7f8a94" stroke-width="0.3"/>
<rect x="326.28" y="229.82" width="13.68" height="10.88" fill="#aec4b2" stroke="#7f8a94" stroke-width="0.3"/>
<rect x="339.96" y="229.82" width="13.68" height="10.88" fill="#edeaab" stroke="#7f8a94" stroke-width="0.3"/>
<rect x="353.64" y="229.82" width="13.68" height="10.88" fill="#bfd0ae" stroke="#7f8a94" stroke-width="0.3"/>
<rect x="367.32" y="229.82" width="13.68" height="10.88" fill="#f8e09e" stroke="#7f8a94" stroke-width="0.3"/>
<rect x="381.00" y="229.82" width="13.68" height="10.88" fill="#e2e4ac" stroke="#7f8a94" stroke-width="0.3"/>
<rect x="394.68" y="229.82" width="13.68" height="10.88" fill="#b8cbb0" stroke="#7f8a94" stroke-width="0.3"/>
<rect x="408.36" y="229.82" width="13.68" height="10.88" fill="#88a8bb" stroke="#7f8a94" stroke-width="0.3"/>
<rect x="39.00" y="240.70" width="13.68" height="10.88" fill="#f8d999" stroke="#7f8a94" stroke-width="0.3"/>
<rect x="52.68" y="240.70" width="13.68" height="10.88" fill="#7497c0" stroke="#7f8a94" stroke-width="0.3"/>
<rect x="66.36" y="240.70" width="13.68" height="10.88" fill="#b8cbb0" stroke="#7f8a94" stroke-width="0.3"/>
<rect x="80.04" y="240.70" width="13.68" height="10.88" fill="#cbd7ad" stroke="#7f8a94" stroke-width="0.3"/>
<rect x="93.72" y="240.70" width="13.68" height="10.88" fill="#bfd0ae" stroke="#7f8a94" stroke-width="0.3"/>
<rect x="107.40" y="240.70" width="13.68" height="10.88" fill="#f8cf92" stroke="#7f8a94" stroke-width="0.3"/>
<rect x="121.08" y="240.70" width="13.68" height="10.88" fill="#628cbd" stroke="#7f8a94" stroke-width="0.3"/>
<rect x="134.76" y="240.70" width="13.68" height="10.88" fill="#4c7cbb" stroke="#7f8a94" stroke-width="0.3"/>
<rect x="148.44" y="240.70" width="13.68" height="10.88" fill="#4676bc" stroke="#7f8a94" stroke-width="0.3"/>
<rect x="162.12" y="240.70" width="13.68" height="10.88" fill="#4676bc" stroke="#7f8a94" stroke-width="0.3"/>
<rect x="175.80" y="240.70" width="13.68" height="10.88" fill="#7c9ebe" stroke="#7f8a94" stroke-width="0.3"/>
<rect x="189.48" y="240.70" width="13.68" height="10.88" fill="#7c9ebe" stroke="#7f8a94" stroke-width="0.3"/>
<rect x="203.16" y="240.70" width="13.68" height="10.88" fill="#7c9ebe" stroke="#7f8a94" stroke-width="0.3"/>
<rect x="216.84" y="240.70" width="13.68" height="10.88" fill="#7c9ebe" stroke="#7f8a94" stroke-width="0.3"/>
<rect x="230.52" y="240.70" width="13.68" height="10.88" fill="#5180ba" stroke="#7f8a94" stroke-width="0.3"/>
<rect x="244.20" y="240.70" width="13.68" height="10.88" fill="#b8cbb0" stroke="#7f8a94" stroke-width="0.3"/>
<rect x="257.88" y="240.70" width="13.68" height="10.88" fill="#a4beb4" stroke="#7f8a94" stroke-width="0.3"/>
<rect x="271.56" y="240.70" width="13.68" height="10.88" fill="#88a8bb" stroke="#7f8a94" stroke-width="0.3"/>
<rect x="285.24" y="240.70" width="13.68" height="10.88" fill="#f2ad78" stroke="#7f8a94" stroke-width="0.3"/>
<rect x="298.92" y="240.70" width="13.68" height="10.88" fill="#7c9ebe" stroke="#7f8a94" stroke-width="0.3"/>
<rect x="312.60" y="240.70" width="13.68" height="10.88" fill="#7c9ebe" stroke="#7f8a94" stroke-width="0.3"/>
<rect x="326.28" y="240.70" width="13.68" height="10.88" fill="#b1c7b1" stroke="#7f8a94" stroke-width="0.3"/>
<rect x="339.96" y="240.70" width="13.68" height="10.88" fill="#9db9b6" stroke="#7f8a94" stroke-width="0.3"/>
<rect x="353.64" y="240.70" width="13.68" height="10.88" fill="#aec4b2" stroke="#7f8a94" stroke-width="0.3"/>
<rect x="367.32" y="240.70" width="13.68" height="10.88" fill="#f8cf92" stroke="#7f8a94" stroke-width="0.3"/>
<rect x="381.00" y="240.70" width="13.68" height="10.88" fill="#f8dd9c" stroke="#7f8a94" stroke-width="0.3"/>
<rect x="394.68" y="240.70" width="13.68" height="10.88" fill="#e2e4ac" stroke="#7f8a94" stroke-width="0.3"/>
<rect x="408.36" y="240.70" width="13.68" height="10.88" fill="#b8cbb0" stroke="#7f8a94" stroke-width="0.3"/>
<text transform="translate(424.94,193.94) scale(0.87,1)" class="rl">ZmNRT3.1A</text>
<text transform="translate(424.94,204.82) scale(0.87,1)" class="rl">ZmNPF6.8</text>
<text transform="translate(424.94,215.70) scale(0.87,1)" class="rl">ZmNRT3.1B</text>
<text transform="translate(424.94,226.58) scale(0.87,1)" class="rl">ZmNPF6.6</text>
<text transform="translate(424.94,237.46) scale(0.87,1)" class="rl">ZmNRT2.5</text>
<text transform="translate(424.94,248.34) scale(0.87,1)" class="rl">ZmNRT2.1</text>
<text transform="translate(50.84,256.28) rotate(-38)" class="cl">Xu178-DN0</text>
<text transform="translate(64.52,256.28) rotate(-38)" class="cl">Xu178-DN96</text>
<text transform="translate(78.20,256.28) rotate(-38)" class="cl">Xu178-RN1</text>
<text transform="translate(91.88,256.28) rotate(-38)" class="cl">Xu178-RN3</text>
<text transform="translate(105.56,256.28) rotate(-38)" class="cl">Xu178-RN6</text>
<text transform="translate(119.24,256.28) rotate(-38)" class="cl">Xu178-RN12</text>
<text transform="translate(132.92,256.28) rotate(-38)" class="cl">Xu178-RN24</text>
<text transform="translate(146.60,256.28) rotate(-38)" class="cl">B73-DN0</text>
<text transform="translate(160.28,256.28) rotate(-38)" class="cl">B73-DN96</text>
<text transform="translate(173.96,256.28) rotate(-38)" class="cl">B73-RN1</text>
<text transform="translate(187.64,256.28) rotate(-38)" class="cl">B73-RN3</text>
<text transform="translate(201.32,256.28) rotate(-38)" class="cl">B73-RN6</text>
<text transform="translate(215.00,256.28) rotate(-38)" class="cl">B73-RN12</text>
<text transform="translate(228.68,256.28) rotate(-38)" class="cl">B73-RN24</text>
<text transform="translate(242.36,256.28) rotate(-38)" class="cl">Mo17-DN0</text>
<text transform="translate(256.04,256.28) rotate(-38)" class="cl">Mo17-DN96</text>
<text transform="translate(269.72,256.28) rotate(-38)" class="cl">Mo17-RN1</text>
<text transform="translate(283.40,256.28) rotate(-38)" class="cl">Mo17-RN3</text>
<text transform="translate(297.08,256.28) rotate(-38)" class="cl">Mo17-RN6</text>
<text transform="translate(310.76,256.28) rotate(-38)" class="cl">Mo17-RN12</text>
<text transform="translate(324.44,256.28) rotate(-38)" class="cl">Mo17-RN24</text>
<text transform="translate(338.12,256.28) rotate(-38)" class="cl">Zong3-DN0</text>
<text transform="translate(351.80,256.28) rotate(-38)" class="cl">Zong3-DN96</text>
<text transform="translate(365.48,256.28) rotate(-38)" class="cl">Zong3-RN1</text>
<text transform="translate(379.16,256.28) rotate(-38)" class="cl">Zong3-RN3</text>
<text transform="translate(392.84,256.28) rotate(-38)" class="cl">Zong3-RN6</text>
<text transform="translate(406.52,256.28) rotate(-38)" class="cl">Zong3-RN12</text>
<text transform="translate(420.20,256.28) rotate(-38)" class="cl">Zong3-RN24</text>
<path d="M39.0,191.74H20.2V212.5H24.2 M39.0,202.62H24.2V222.6H28.1 M39.0,213.50H28.1V232.5H31.6 M39.0,224.38H31.6V240.5H35.3 M39.0,235.26H35.3V246.14H39.0 M20.2,191.74V212.5" fill="none" stroke="#4d4d4d" stroke-width="0.8"/>
<defs><linearGradient id="g197" x1="0" y1="1" x2="0" y2="0"><stop offset="0.000" stop-color="#3a6bbd"/><stop offset="0.086" stop-color="#5180ba"/><stop offset="0.172" stop-color="#7497c0"/><stop offset="0.258" stop-color="#9db9b6"/><stop offset="0.344" stop-color="#bfd0ae"/><stop offset="0.430" stop-color="#f9f1aa"/><stop offset="0.544" stop-color="#f8cf92"/><stop offset="0.658" stop-color="#f1a472"/><stop offset="0.772" stop-color="#e8704c"/><stop offset="0.886" stop-color="#dc3c30"/><stop offset="1.000" stop-color="#d42428"/></linearGradient></defs>
<rect x="461.9" y="197.0" width="7" height="42.69999999999999" fill="url(#g197)"/>
<line x1="468.9" y1="197.00" x2="470.09999999999997" y2="197.00" stroke="#555" stroke-width="0.4"/>
<text x="470.90" y="198.50" class="bl">11.31</text>
<line x1="468.9" y1="203.10" x2="470.09999999999997" y2="203.10" stroke="#555" stroke-width="0.4"/>
<text x="470.90" y="204.60" class="bl">8.00</text>
<line x1="468.9" y1="209.20" x2="470.09999999999997" y2="209.20" stroke="#555" stroke-width="0.4"/>
<text x="470.90" y="210.70" class="bl">5.66</text>
<line x1="468.9" y1="215.30" x2="470.09999999999997" y2="215.30" stroke="#555" stroke-width="0.4"/>
<text x="470.90" y="216.80" class="bl">4.00</text>
<line x1="468.9" y1="221.40" x2="470.09999999999997" y2="221.40" stroke="#555" stroke-width="0.4"/>
<text x="470.90" y="222.90" class="bl">2.83</text>
<line x1="468.9" y1="227.50" x2="470.09999999999997" y2="227.50" stroke="#555" stroke-width="0.4"/>
<text x="470.90" y="229.00" class="bl">2.00</text>
<line x1="468.9" y1="233.60" x2="470.09999999999997" y2="233.60" stroke="#555" stroke-width="0.4"/>
<text x="470.90" y="235.10" class="bl">1.41</text>
<line x1="468.9" y1="239.70" x2="470.09999999999997" y2="239.70" stroke="#555" stroke-width="0.4"/>
<text x="470.90" y="241.20" class="bl">1.00</text>
<rect x="20.3" y="285.3" width="461.4" height="164.4" class="box"/>
<line x1="173.9" y1="285.3" x2="173.9" y2="449.7" class="box"/>
<line x1="328.4" y1="285.3" x2="328.4" y2="449.7" class="box"/>
<line x1="20.3" y1="367.4" x2="481.7" y2="367.4" class="box"/>
<text x="97.3" y="292.3" class="ttl">ZmNPF6.6</text>
<line x1="36.2" y1="350.60" x2="172.3" y2="350.60" class="grid"/>
<text x="32.00" y="352.40" class="yl">0</text>
<line x1="36.2" y1="344.40" x2="172.3" y2="344.40" class="grid"/>
<text x="32.00" y="346.20" class="yl">2</text>
<line x1="36.2" y1="338.20" x2="172.3" y2="338.20" class="grid"/>
<text x="32.00" y="340.00" class="yl">4</text>
<line x1="36.2" y1="332.00" x2="172.3" y2="332.00" class="grid"/>
<text x="32.00" y="333.80" class="yl">6</text>
<line x1="36.2" y1="325.80" x2="172.3" y2="325.80" class="grid"/>
<text x="32.00" y="327.60" class="yl">8</text>
<line x1="36.2" y1="319.60" x2="172.3" y2="319.60" class="grid"/>
<text x="32.00" y="321.40" class="yl">10</text>
<line x1="36.2" y1="313.40" x2="172.3" y2="313.40" class="grid"/>
<text x="32.00" y="315.20" class="yl">12</text>
<line x1="36.2" y1="307.20" x2="172.3" y2="307.20" class="grid"/>
<text x="32.00" y="309.00" class="yl">14</text>
<line x1="36.2" y1="301.00" x2="172.3" y2="301.00" class="grid"/>
<text x="32.00" y="302.80" class="yl">16</text>
<text x="46.60" y="357.20" class="xl">DN0</text>
<text x="66.10" y="357.20" class="xl">DN96</text>
<text x="85.60" y="357.20" class="xl">RN1</text>
<text x="105.10" y="357.20" class="xl">RN3</text>
<text x="124.60" y="357.20" class="xl">RN6</text>
<text x="144.10" y="357.20" class="xl">RN12</text>
<text x="163.60" y="357.20" class="xl">RN24</text>
<polyline points="46.60,336.65 66.10,346.26 85.60,349.36 105.10,343.47 124.60,348.43 144.10,323.32 163.60,335.41" fill="none" stroke="#5b9bd5" stroke-width="1.05" stroke-linejoin="round"/>
<circle cx="46.60" cy="336.65" r="1.1" fill="#5b9bd5"/>
<circle cx="66.10" cy="346.26" r="1.1" fill="#5b9bd5"/>
<circle cx="85.60" cy="349.36" r="1.1" fill="#5b9bd5"/>
<circle cx="105.10" cy="343.47" r="1.1" fill="#5b9bd5"/>
<circle cx="124.60" cy="348.43" r="1.1" fill="#5b9bd5"/>
<circle cx="144.10" cy="323.32" r="1.1" fill="#5b9bd5"/>
<circle cx="163.60" cy="335.41" r="1.1" fill="#5b9bd5"/>
<polyline points="46.60,339.75 66.10,344.40 85.60,345.02 105.10,349.05 124.60,340.37 144.10,349.05 163.60,342.85" fill="none" stroke="#ed7d31" stroke-width="1.05" stroke-linejoin="round"/>
<circle cx="46.60" cy="339.75" r="1.1" fill="#ed7d31"/>
<circle cx="66.10" cy="344.40" r="1.1" fill="#ed7d31"/>
<circle cx="85.60" cy="345.02" r="1.1" fill="#ed7d31"/>
<circle cx="105.10" cy="349.05" r="1.1" fill="#ed7d31"/>
<circle cx="124.60" cy="340.37" r="1.1" fill="#ed7d31"/>
<circle cx="144.10" cy="349.05" r="1.1" fill="#ed7d31"/>
<circle cx="163.60" cy="342.85" r="1.1" fill="#ed7d31"/>
<polyline points="46.60,350.29 66.10,350.29 85.60,350.29 105.10,350.29 124.60,350.29 144.10,350.29 163.60,350.29" fill="none" stroke="#999999" stroke-width="0.8" stroke-linejoin="round"/>
<circle cx="46.60" cy="350.29" r="1.1" fill="#999999"/>
<circle cx="66.10" cy="350.29" r="1.1" fill="#999999"/>
<circle cx="85.60" cy="350.29" r="1.1" fill="#999999"/>
<circle cx="105.10" cy="350.29" r="1.1" fill="#999999"/>
<circle cx="124.60" cy="350.29" r="1.1" fill="#999999"/>
<circle cx="144.10" cy="350.29" r="1.1" fill="#999999"/>
<circle cx="163.60" cy="350.29" r="1.1" fill="#999999"/>
<polyline points="46.60,305.34 66.10,343.78 85.60,344.40 105.10,336.96 124.60,333.24 144.10,325.18 163.60,341.30" fill="none" stroke="#ffc000" stroke-width="1.05" stroke-linejoin="round"/>
<circle cx="46.60" cy="305.34" r="1.1" fill="#ffc000"/>
<circle cx="66.10" cy="343.78" r="1.1" fill="#ffc000"/>
<circle cx="85.60" cy="344.40" r="1.1" fill="#ffc000"/>
<circle cx="105.10" cy="336.96" r="1.1" fill="#ffc000"/>
<circle cx="124.60" cy="333.24" r="1.1" fill="#ffc000"/>
<circle cx="144.10" cy="325.18" r="1.1" fill="#ffc000"/>
<circle cx="163.60" cy="341.30" r="1.1" fill="#ffc000"/>
<text x="251.4" y="292.3" class="ttl">ZmNPF6.8</text>
<line x1="191.7" y1="350.60" x2="327.0" y2="350.60" class="grid"/>
<text x="187.50" y="352.40" class="yl">0</text>
<line x1="191.7" y1="345.09" x2="327.0" y2="345.09" class="grid"/>
<text x="187.50" y="346.89" class="yl">2</text>
<line x1="191.7" y1="339.58" x2="327.0" y2="339.58" class="grid"/>
<text x="187.50" y="341.38" class="yl">4</text>
<line x1="191.7" y1="334.07" x2="327.0" y2="334.07" class="grid"/>
<text x="187.50" y="335.87" class="yl">6</text>
<line x1="191.7" y1="328.56" x2="327.0" y2="328.56" class="grid"/>
<text x="187.50" y="330.36" class="yl">8</text>
<line x1="191.7" y1="323.04" x2="327.0" y2="323.04" class="grid"/>
<text x="187.50" y="324.84" class="yl">10</text>
<line x1="191.7" y1="317.53" x2="327.0" y2="317.53" class="grid"/>
<text x="187.50" y="319.33" class="yl">12</text>
<line x1="191.7" y1="312.02" x2="327.0" y2="312.02" class="grid"/>
<text x="187.50" y="313.82" class="yl">14</text>
<line x1="191.7" y1="306.51" x2="327.0" y2="306.51" class="grid"/>
<text x="187.50" y="308.31" class="yl">16</text>
<line x1="191.7" y1="301.00" x2="327.0" y2="301.00" class="grid"/>
<text x="187.50" y="302.80" class="yl">18</text>
<text x="201.80" y="357.20" class="xl">DN0</text>
<text x="221.25" y="357.20" class="xl">DN96</text>
<text x="240.70" y="357.20" class="xl">RN1</text>
<text x="260.15" y="357.20" class="xl">RN3</text>
<text x="279.60" y="357.20" class="xl">RN6</text>
<text x="299.05" y="357.20" class="xl">RN12</text>
<text x="318.50" y="357.20" class="xl">RN24</text>
<polyline points="201.80,307.34 221.25,326.63 240.70,325.80 260.15,319.74 279.60,349.50 299.05,349.50 318.50,348.67" fill="none" stroke="#5b9bd5" stroke-width="1.05" stroke-linejoin="round"/>
<circle cx="201.80" cy="307.34" r="1.1" fill="#5b9bd5"/>
<circle cx="221.25" cy="326.63" r="1.1" fill="#5b9bd5"/>
<circle cx="240.70" cy="325.80" r="1.1" fill="#5b9bd5"/>
<circle cx="260.15" cy="319.74" r="1.1" fill="#5b9bd5"/>
<circle cx="279.60" cy="349.50" r="1.1" fill="#5b9bd5"/>
<circle cx="299.05" cy="349.50" r="1.1" fill="#5b9bd5"/>
<circle cx="318.50" cy="348.67" r="1.1" fill="#5b9bd5"/>
<polyline points="201.80,321.39 221.25,329.66 240.70,344.81 260.15,344.26 279.60,341.51 299.05,323.87 318.50,322.22" fill="none" stroke="#ed7d31" stroke-width="1.05" stroke-linejoin="round"/>
<circle cx="201.80" cy="321.39" r="1.1" fill="#ed7d31"/>
<circle cx="221.25" cy="329.66" r="1.1" fill="#ed7d31"/>
<circle cx="240.70" cy="344.81" r="1.1" fill="#ed7d31"/>
<circle cx="260.15" cy="344.26" r="1.1" fill="#ed7d31"/>
<circle cx="279.60" cy="341.51" r="1.1" fill="#ed7d31"/>
<circle cx="299.05" cy="323.87" r="1.1" fill="#ed7d31"/>
<circle cx="318.50" cy="322.22" r="1.1" fill="#ed7d31"/>
<polyline points="201.80,345.36 221.25,349.77 240.70,349.22 260.15,350.05 279.60,349.50 299.05,348.95 318.50,347.84" fill="none" stroke="#999999" stroke-width="0.8" stroke-linejoin="round"/>
<circle cx="201.80" cy="345.36" r="1.1" fill="#999999"/>
<circle cx="221.25" cy="349.77" r="1.1" fill="#999999"/>
<circle cx="240.70" cy="349.22" r="1.1" fill="#999999"/>
<circle cx="260.15" cy="350.05" r="1.1" fill="#999999"/>
<circle cx="279.60" cy="349.50" r="1.1" fill="#999999"/>
<circle cx="299.05" cy="348.95" r="1.1" fill="#999999"/>
<circle cx="318.50" cy="347.84" r="1.1" fill="#999999"/>
<polyline points="201.80,348.40 221.25,350.05 240.70,350.05 260.15,350.32 279.60,350.32 299.05,350.05 318.50,348.67" fill="none" stroke="#ffc000" stroke-width="1.05" stroke-linejoin="round"/>
<circle cx="201.80" cy="348.40" r="1.1" fill="#ffc000"/>
<circle cx="221.25" cy="350.05" r="1.1" fill="#ffc000"/>
<circle cx="240.70" cy="350.05" r="1.1" fill="#ffc000"/>
<circle cx="260.15" cy="350.32" r="1.1" fill="#ffc000"/>
<circle cx="279.60" cy="350.32" r="1.1" fill="#ffc000"/>
<circle cx="299.05" cy="350.05" r="1.1" fill="#ffc000"/>
<circle cx="318.50" cy="348.67" r="1.1" fill="#ffc000"/>
<text x="405.4" y="292.3" class="ttl">ZmNRT2.1</text>
<line x1="347.3" y1="350.60" x2="480.7" y2="350.60" class="grid"/>
<text x="343.10" y="352.40" class="yl">0</text>
<line x1="347.3" y1="345.64" x2="480.7" y2="345.64" class="grid"/>
<text x="343.10" y="347.44" class="yl">0.1</text>
<line x1="347.3" y1="340.68" x2="480.7" y2="340.68" class="grid"/>
<text x="343.10" y="342.48" class="yl">0.2</text>
<line x1="347.3" y1="335.72" x2="480.7" y2="335.72" class="grid"/>
<text x="343.10" y="337.52" class="yl">0.3</text>
<line x1="347.3" y1="330.76" x2="480.7" y2="330.76" class="grid"/>
<text x="343.10" y="332.56" class="yl">0.4</text>
<line x1="347.3" y1="325.80" x2="480.7" y2="325.80" class="grid"/>
<text x="343.10" y="327.60" class="yl">0.5</text>
<line x1="347.3" y1="320.84" x2="480.7" y2="320.84" class="grid"/>
<text x="343.10" y="322.64" class="yl">0.6</text>
<line x1="347.3" y1="315.88" x2="480.7" y2="315.88" class="grid"/>
<text x="343.10" y="317.68" class="yl">0.7</text>
<line x1="347.3" y1="310.92" x2="480.7" y2="310.92" class="grid"/>
<text x="343.10" y="312.72" class="yl">0.8</text>
<line x1="347.3" y1="305.96" x2="480.7" y2="305.96" class="grid"/>
<text x="343.10" y="307.76" class="yl">0.9</text>
<line x1="347.3" y1="301.00" x2="480.7" y2="301.00" class="grid"/>
<text x="343.10" y="302.80" class="yl">1</text>
<text x="356.80" y="357.20" class="xl">DN0</text>
<text x="376.10" y="357.20" class="xl">DN96</text>
<text x="395.40" y="357.20" class="xl">RN1</text>
<text x="414.70" y="357.20" class="xl">RN3</text>
<text x="434.00" y="357.20" class="xl">RN6</text>
<text x="453.30" y="357.20" class="xl">RN12</text>
<text x="472.60" y="357.20" class="xl">RN24</text>
<polyline points="356.80,350.60 376.10,350.60 395.40,350.60 414.70,350.60 434.00,350.60 453.30,350.60 472.60,350.60" fill="none" stroke="#5b9bd5" stroke-width="1.05" stroke-linejoin="round"/>
<circle cx="356.80" cy="350.60" r="1.1" fill="#5b9bd5"/>
<circle cx="376.10" cy="350.60" r="1.1" fill="#5b9bd5"/>
<circle cx="395.40" cy="350.60" r="1.1" fill="#5b9bd5"/>
<circle cx="414.70" cy="350.60" r="1.1" fill="#5b9bd5"/>
<circle cx="434.00" cy="350.60" r="1.1" fill="#5b9bd5"/>
<circle cx="453.30" cy="350.60" r="1.1" fill="#5b9bd5"/>
<circle cx="472.60" cy="350.60" r="1.1" fill="#5b9bd5"/>
<polyline points="356.80,350.60 376.10,350.60 395.40,350.60 414.70,350.60 434.00,350.60 453.30,350.60 472.60,350.60" fill="none" stroke="#ed7d31" stroke-width="1.05" stroke-linejoin="round"/>
<circle cx="356.80" cy="350.60" r="1.1" fill="#ed7d31"/>
<circle cx="376.10" cy="350.60" r="1.1" fill="#ed7d31"/>
<circle cx="395.40" cy="350.60" r="1.1" fill="#ed7d31"/>
<circle cx="414.70" cy="350.60" r="1.1" fill="#ed7d31"/>
<circle cx="434.00" cy="350.60" r="1.1" fill="#ed7d31"/>
<circle cx="453.30" cy="350.60" r="1.1" fill="#ed7d31"/>
<circle cx="472.60" cy="350.60" r="1.1" fill="#ed7d31"/>
<polyline points="356.80,350.60 376.10,350.60 395.40,350.60 414.70,350.60 434.00,350.60 453.30,350.60 472.60,350.60" fill="none" stroke="#999999" stroke-width="0.8" stroke-linejoin="round"/>
<circle cx="356.80" cy="350.60" r="1.1" fill="#999999"/>
<circle cx="376.10" cy="350.60" r="1.1" fill="#999999"/>
<circle cx="395.40" cy="350.60" r="1.1" fill="#999999"/>
<circle cx="414.70" cy="350.60" r="1.1" fill="#999999"/>
<circle cx="434.00" cy="350.60" r="1.1" fill="#999999"/>
<circle cx="453.30" cy="350.60" r="1.1" fill="#999999"/>
<circle cx="472.60" cy="350.60" r="1.1" fill="#999999"/>
<polyline points="356.80,350.60 376.10,350.60 395.40,350.60 414.70,350.60 434.00,350.60 453.30,350.60 472.60,350.60" fill="none" stroke="#ffc000" stroke-width="1.05" stroke-linejoin="round"/>
<circle cx="356.80" cy="350.60" r="1.1" fill="#ffc000"/>
<circle cx="376.10" cy="350.60" r="1.1" fill="#ffc000"/>
<circle cx="395.40" cy="350.60" r="1.1" fill="#ffc000"/>
<circle cx="414.70" cy="350.60" r="1.1" fill="#ffc000"/>
<circle cx="434.00" cy="350.60" r="1.1" fill="#ffc000"/>
<circle cx="453.30" cy="350.60" r="1.1" fill="#ffc000"/>
<circle cx="472.60" cy="350.60" r="1.1" fill="#ffc000"/>
<text x="97.3" y="374.2" class="ttl">ZmNRT2.5</text>
<line x1="34.0" y1="432.50" x2="172.3" y2="432.50" class="grid"/>
<text x="29.80" y="434.30" class="yl">0</text>
<line x1="34.0" y1="426.39" x2="172.3" y2="426.39" class="grid"/>
<text x="29.80" y="428.19" class="yl">1</text>
<line x1="34.0" y1="420.27" x2="172.3" y2="420.27" class="grid"/>
<text x="29.80" y="422.07" class="yl">2</text>
<line x1="34.0" y1="414.16" x2="172.3" y2="414.16" class="grid"/>
<text x="29.80" y="415.96" class="yl">3</text>
<line x1="34.0" y1="408.05" x2="172.3" y2="408.05" class="grid"/>
<text x="29.80" y="409.85" class="yl">4</text>
<line x1="34.0" y1="401.94" x2="172.3" y2="401.94" class="grid"/>
<text x="29.80" y="403.74" class="yl">5</text>
<line x1="34.0" y1="395.83" x2="172.3" y2="395.83" class="grid"/>
<text x="29.80" y="397.63" class="yl">6</text>
<line x1="34.0" y1="389.71" x2="172.3" y2="389.71" class="grid"/>
<text x="29.80" y="391.51" class="yl">7</text>
<line x1="34.0" y1="383.60" x2="172.3" y2="383.60" class="grid"/>
<text x="29.80" y="385.40" class="yl">8</text>
<text x="44.50" y="439.40" class="xl">DN0</text>
<text x="64.35" y="439.40" class="xl">DN96</text>
<text x="84.20" y="439.40" class="xl">RN1</text>
<text x="104.05" y="439.40" class="xl">RN3</text>
<text x="123.90" y="439.40" class="xl">RN6</text>
<text x="143.75" y="439.40" class="xl">RN12</text>
<text x="163.60" y="439.40" class="xl">RN24</text>
<polyline points="44.50,411.72 64.35,424.55 84.20,386.66 104.05,397.66 123.90,416.00 143.75,427.00 163.60,408.66" fill="none" stroke="#5b9bd5" stroke-width="1.05" stroke-linejoin="round"/>
<circle cx="44.50" cy="411.72" r="1.1" fill="#5b9bd5"/>
<circle cx="64.35" cy="424.55" r="1.1" fill="#5b9bd5"/>
<circle cx="84.20" cy="386.66" r="1.1" fill="#5b9bd5"/>
<circle cx="104.05" cy="397.66" r="1.1" fill="#5b9bd5"/>
<circle cx="123.90" cy="416.00" r="1.1" fill="#5b9bd5"/>
<circle cx="143.75" cy="427.00" r="1.1" fill="#5b9bd5"/>
<circle cx="163.60" cy="408.66" r="1.1" fill="#5b9bd5"/>
<polyline points="44.50,429.44 64.35,431.89 84.20,430.97 104.05,430.97 123.90,431.28 143.75,430.67 163.60,430.97" fill="none" stroke="#ed7d31" stroke-width="1.05" stroke-linejoin="round"/>
<circle cx="44.50" cy="429.44" r="1.1" fill="#ed7d31"/>
<circle cx="64.35" cy="431.89" r="1.1" fill="#ed7d31"/>
<circle cx="84.20" cy="430.97" r="1.1" fill="#ed7d31"/>
<circle cx="104.05" cy="430.97" r="1.1" fill="#ed7d31"/>
<circle cx="123.90" cy="431.28" r="1.1" fill="#ed7d31"/>
<circle cx="143.75" cy="430.67" r="1.1" fill="#ed7d31"/>
<circle cx="163.60" cy="430.97" r="1.1" fill="#ed7d31"/>
<polyline points="44.50,419.66 64.35,422.72 84.20,423.33 104.05,419.36 123.90,421.50 143.75,419.05 163.60,421.50" fill="none" stroke="#999999" stroke-width="0.8" stroke-linejoin="round"/>
<circle cx="44.50" cy="419.66" r="1.1" fill="#999999"/>
<circle cx="64.35" cy="422.72" r="1.1" fill="#999999"/>
<circle cx="84.20" cy="423.33" r="1.1" fill="#999999"/>
<circle cx="104.05" cy="419.36" r="1.1" fill="#999999"/>
<circle cx="123.90" cy="421.50" r="1.1" fill="#999999"/>
<circle cx="143.75" cy="419.05" r="1.1" fill="#999999"/>
<circle cx="163.60" cy="421.50" r="1.1" fill="#999999"/>
<polyline points="44.50,430.06 64.35,429.44 84.20,422.11 104.05,422.72 123.90,425.17 143.75,425.17 163.60,428.83" fill="none" stroke="#ffc000" stroke-width="1.05" stroke-linejoin="round"/>
<circle cx="44.50" cy="430.06" r="1.1" fill="#ffc000"/>
<circle cx="64.35" cy="429.44" r="1.1" fill="#ffc000"/>
<circle cx="84.20" cy="422.11" r="1.1" fill="#ffc000"/>
<circle cx="104.05" cy="422.72" r="1.1" fill="#ffc000"/>
<circle cx="123.90" cy="425.17" r="1.1" fill="#ffc000"/>
<circle cx="143.75" cy="425.17" r="1.1" fill="#ffc000"/>
<circle cx="163.60" cy="428.83" r="1.1" fill="#ffc000"/>
<line x1="39.40" y1="445.6" x2="46.40" y2="445.6" stroke="#5b9bd5" stroke-width="1"/>
<circle cx="42.90" cy="445.6" r="1" fill="#5b9bd5"/>
<text x="47.10" y="447.50" class="lg">Xu178</text>
<line x1="73.70" y1="445.6" x2="80.70" y2="445.6" stroke="#ed7d31" stroke-width="1"/>
<circle cx="77.20" cy="445.6" r="1" fill="#ed7d31"/>
<text x="81.30" y="447.50" class="lg">B73</text>
<line x1="101.40" y1="445.6" x2="108.40" y2="445.6" stroke="#999999" stroke-width="1"/>
<circle cx="104.90" cy="445.6" r="1" fill="#999999"/>
<text x="109.00" y="447.50" class="lg">Mo17</text>
<line x1="133.40" y1="445.6" x2="140.40" y2="445.6" stroke="#ffc000" stroke-width="1"/>
<circle cx="136.90" cy="445.6" r="1" fill="#ffc000"/>
<text x="141.00" y="447.50" class="lg">Zong3</text>
<text x="251.4" y="374.2" class="ttl">ZmNRT3.1A</text>
<line x1="191.5" y1="432.50" x2="327.0" y2="432.50" class="grid"/>
<text x="187.30" y="434.30" class="yl">0</text>
<line x1="191.5" y1="427.07" x2="327.0" y2="427.07" class="grid"/>
<text x="187.30" y="428.87" class="yl">0.5</text>
<line x1="191.5" y1="421.63" x2="327.0" y2="421.63" class="grid"/>
<text x="187.30" y="423.43" class="yl">1</text>
<line x1="191.5" y1="416.20" x2="327.0" y2="416.20" class="grid"/>
<text x="187.30" y="418.00" class="yl">1.5</text>
<line x1="191.5" y1="410.77" x2="327.0" y2="410.77" class="grid"/>
<text x="187.30" y="412.57" class="yl">2</text>
<line x1="191.5" y1="405.33" x2="327.0" y2="405.33" class="grid"/>
<text x="187.30" y="407.13" class="yl">2.5</text>
<line x1="191.5" y1="399.90" x2="327.0" y2="399.90" class="grid"/>
<text x="187.30" y="401.70" class="yl">3</text>
<line x1="191.5" y1="394.47" x2="327.0" y2="394.47" class="grid"/>
<text x="187.30" y="396.27" class="yl">3.5</text>
<line x1="191.5" y1="389.03" x2="327.0" y2="389.03" class="grid"/>
<text x="187.30" y="390.83" class="yl">4</text>
<line x1="191.5" y1="383.60" x2="327.0" y2="383.60" class="grid"/>
<text x="187.30" y="385.40" class="yl">4.5</text>
<text x="201.00" y="439.40" class="xl">DN0</text>
<text x="220.60" y="439.40" class="xl">DN96</text>
<text x="240.20" y="439.40" class="xl">RN1</text>
<text x="259.80" y="439.40" class="xl">RN3</text>
<text x="279.40" y="439.40" class="xl">RN6</text>
<text x="299.00" y="439.40" class="xl">RN12</text>
<text x="318.60" y="439.40" class="xl">RN24</text>
<polyline points="201.00,430.87 220.60,430.33 240.20,431.96 259.80,389.58 279.40,431.96 299.00,429.24 318.60,431.96" fill="none" stroke="#5b9bd5" stroke-width="1.05" stroke-linejoin="round"/>
<circle cx="201.00" cy="430.87" r="1.1" fill="#5b9bd5"/>
<circle cx="220.60" cy="430.33" r="1.1" fill="#5b9bd5"/>
<circle cx="240.20" cy="431.96" r="1.1" fill="#5b9bd5"/>
<circle cx="259.80" cy="389.58" r="1.1" fill="#5b9bd5"/>
<circle cx="279.40" cy="431.96" r="1.1" fill="#5b9bd5"/>
<circle cx="299.00" cy="429.24" r="1.1" fill="#5b9bd5"/>
<circle cx="318.60" cy="431.96" r="1.1" fill="#5b9bd5"/>
<polyline points="201.00,431.96 220.60,432.28 240.20,432.28 259.80,432.28 279.40,431.96 299.00,431.96 318.60,431.96" fill="none" stroke="#ed7d31" stroke-width="1.05" stroke-linejoin="round"/>
<circle cx="201.00" cy="431.96" r="1.1" fill="#ed7d31"/>
<circle cx="220.60" cy="432.28" r="1.1" fill="#ed7d31"/>
<circle cx="240.20" cy="432.28" r="1.1" fill="#ed7d31"/>
<circle cx="259.80" cy="432.28" r="1.1" fill="#ed7d31"/>
<circle cx="279.40" cy="431.96" r="1.1" fill="#ed7d31"/>
<circle cx="299.00" cy="431.96" r="1.1" fill="#ed7d31"/>
<circle cx="318.60" cy="431.96" r="1.1" fill="#ed7d31"/>
<polyline points="201.00,431.41 220.60,431.41 240.20,431.96 259.80,431.96 279.40,431.41 299.00,421.63 318.60,431.41" fill="none" stroke="#999999" stroke-width="0.8" stroke-linejoin="round"/>
<circle cx="201.00" cy="431.41" r="1.1" fill="#999999"/>
<circle cx="220.60" cy="431.41" r="1.1" fill="#999999"/>
<circle cx="240.20" cy="431.96" r="1.1" fill="#999999"/>
<circle cx="259.80" cy="431.96" r="1.1" fill="#999999"/>
<circle cx="279.40" cy="431.41" r="1.1" fill="#999999"/>
<circle cx="299.00" cy="421.63" r="1.1" fill="#999999"/>
<circle cx="318.60" cy="431.41" r="1.1" fill="#999999"/>
<polyline points="201.00,431.41 220.60,431.41 240.20,431.96 259.80,425.98 279.40,411.85 299.00,418.92 318.60,431.41" fill="none" stroke="#ffc000" stroke-width="1.05" stroke-linejoin="round"/>
<circle cx="201.00" cy="431.41" r="1.1" fill="#ffc000"/>
<circle cx="220.60" cy="431.41" r="1.1" fill="#ffc000"/>
<circle cx="240.20" cy="431.96" r="1.1" fill="#ffc000"/>
<circle cx="259.80" cy="425.98" r="1.1" fill="#ffc000"/>
<circle cx="279.40" cy="411.85" r="1.1" fill="#ffc000"/>
<circle cx="299.00" cy="418.92" r="1.1" fill="#ffc000"/>
<circle cx="318.60" cy="431.41" r="1.1" fill="#ffc000"/>
<line x1="193.00" y1="445.6" x2="200.00" y2="445.6" stroke="#5b9bd5" stroke-width="1"/>
<circle cx="196.50" cy="445.6" r="1" fill="#5b9bd5"/>
<text x="200.70" y="447.50" class="lg">Xu178</text>
<line x1="227.30" y1="445.6" x2="234.30" y2="445.6" stroke="#ed7d31" stroke-width="1"/>
<circle cx="230.80" cy="445.6" r="1" fill="#ed7d31"/>
<text x="234.90" y="447.50" class="lg">B73</text>
<line x1="255.00" y1="445.6" x2="262.00" y2="445.6" stroke="#999999" stroke-width="1"/>
<circle cx="258.50" cy="445.6" r="1" fill="#999999"/>
<text x="262.60" y="447.50" class="lg">Mo17</text>
<line x1="287.00" y1="445.6" x2="294.00" y2="445.6" stroke="#ffc000" stroke-width="1"/>
<circle cx="290.50" cy="445.6" r="1" fill="#ffc000"/>
<text x="294.60" y="447.50" class="lg">Zong3</text>
<text x="405.4" y="374.2" class="ttl">ZmNRT3.1B</text>
<line x1="346.8" y1="432.50" x2="480.7" y2="432.50" class="grid"/>
<text x="342.60" y="434.30" class="yl">0</text>
<line x1="346.8" y1="422.72" x2="480.7" y2="422.72" class="grid"/>
<text x="342.60" y="424.52" class="yl">0.5</text>
<line x1="346.8" y1="412.94" x2="480.7" y2="412.94" class="grid"/>
<text x="342.60" y="414.74" class="yl">1</text>
<line x1="346.8" y1="403.16" x2="480.7" y2="403.16" class="grid"/>
<text x="342.60" y="404.96" class="yl">1.5</text>
<line x1="346.8" y1="393.38" x2="480.7" y2="393.38" class="grid"/>
<text x="342.60" y="395.18" class="yl">2</text>
<line x1="346.8" y1="383.60" x2="480.7" y2="383.60" class="grid"/>
<text x="342.60" y="385.40" class="yl">2.5</text>
<text x="356.70" y="439.40" class="xl">DN0</text>
<text x="375.80" y="439.40" class="xl">DN96</text>
<text x="394.90" y="439.40" class="xl">RN1</text>
<text x="414.00" y="439.40" class="xl">RN3</text>
<text x="433.10" y="439.40" class="xl">RN6</text>
<text x="452.20" y="439.40" class="xl">RN12</text>
<text x="471.30" y="439.40" class="xl">RN24</text>
<polyline points="356.70,432.50 375.80,432.11 394.90,432.11 414.00,432.50 433.10,431.52 452.20,432.50 471.30,431.91" fill="none" stroke="#5b9bd5" stroke-width="1.05" stroke-linejoin="round"/>
<circle cx="356.70" cy="432.50" r="1.1" fill="#5b9bd5"/>
<circle cx="375.80" cy="432.11" r="1.1" fill="#5b9bd5"/>
<circle cx="394.90" cy="432.11" r="1.1" fill="#5b9bd5"/>
<circle cx="414.00" cy="432.50" r="1.1" fill="#5b9bd5"/>
<circle cx="433.10" cy="431.52" r="1.1" fill="#5b9bd5"/>
<circle cx="452.20" cy="432.50" r="1.1" fill="#5b9bd5"/>
<circle cx="471.30" cy="431.91" r="1.1" fill="#5b9bd5"/>
<polyline points="356.70,431.91 375.80,432.11 394.90,432.50 414.00,432.50 433.10,431.52 452.20,431.91 471.30,431.52" fill="none" stroke="#ed7d31" stroke-width="1.05" stroke-linejoin="round"/>
<circle cx="356.70" cy="431.91" r="1.1" fill="#ed7d31"/>
<circle cx="375.80" cy="432.11" r="1.1" fill="#ed7d31"/>
<circle cx="394.90" cy="432.50" r="1.1" fill="#ed7d31"/>
<circle cx="414.00" cy="432.50" r="1.1" fill="#ed7d31"/>
<circle cx="433.10" cy="431.52" r="1.1" fill="#ed7d31"/>
<circle cx="452.20" cy="431.91" r="1.1" fill="#ed7d31"/>
<circle cx="471.30" cy="431.52" r="1.1" fill="#ed7d31"/>
<polyline points="356.70,427.22 375.80,430.94 394.90,429.17 414.00,429.57 433.10,430.54 452.20,429.57 471.30,430.54" fill="none" stroke="#999999" stroke-width="0.8" stroke-linejoin="round"/>
<circle cx="356.70" cy="427.22" r="1.1" fill="#999999"/>
<circle cx="375.80" cy="430.94" r="1.1" fill="#999999"/>
<circle cx="394.90" cy="429.17" r="1.1" fill="#999999"/>
<circle cx="414.00" cy="429.57" r="1.1" fill="#999999"/>
<circle cx="433.10" cy="430.54" r="1.1" fill="#999999"/>
<circle cx="452.20" cy="429.57" r="1.1" fill="#999999"/>
<circle cx="471.30" cy="430.54" r="1.1" fill="#999999"/>
<polyline points="356.70,396.71 375.80,404.14 394.90,413.92 414.00,392.99 433.10,403.16 452.20,408.05 471.30,422.72" fill="none" stroke="#ffc000" stroke-width="1.05" stroke-linejoin="round"/>
<circle cx="356.70" cy="396.71" r="1.1" fill="#ffc000"/>
<circle cx="375.80" cy="404.14" r="1.1" fill="#ffc000"/>
<circle cx="394.90" cy="413.92" r="1.1" fill="#ffc000"/>
<circle cx="414.00" cy="392.99" r="1.1" fill="#ffc000"/>
<circle cx="433.10" cy="403.16" r="1.1" fill="#ffc000"/>
<circle cx="452.20" cy="408.05" r="1.1" fill="#ffc000"/>
<circle cx="471.30" cy="422.72" r="1.1" fill="#ffc000"/>
<line x1="347.50" y1="445.6" x2="354.50" y2="445.6" stroke="#5b9bd5" stroke-width="1"/>
<circle cx="351.00" cy="445.6" r="1" fill="#5b9bd5"/>
<text x="355.20" y="447.50" class="lg">Xu178</text>
<line x1="381.80" y1="445.6" x2="388.80" y2="445.6" stroke="#ed7d31" stroke-width="1"/>
<circle cx="385.30" cy="445.6" r="1" fill="#ed7d31"/>
<text x="389.40" y="447.50" class="lg">B73</text>
<line x1="409.50" y1="445.6" x2="416.50" y2="445.6" stroke="#999999" stroke-width="1"/>
<circle cx="413.00" cy="445.6" r="1" fill="#999999"/>
<text x="417.10" y="447.50" class="lg">Mo17</text>
<line x1="441.50" y1="445.6" x2="448.50" y2="445.6" stroke="#ffc000" stroke-width="1"/>
<circle cx="445.00" cy="445.6" r="1" fill="#ffc000"/>
<text x="449.10" y="447.50" class="lg">Zong3</text>
<rect x="39.00" y="457.40" width="13.68" height="10.72" fill="#f9eaa5" stroke="#7f8a94" stroke-width="0.3"/>
<rect x="52.68" y="457.40" width="13.68" height="10.72" fill="#a4beb4" stroke="#7f8a94" stroke-width="0.3"/>
<rect x="66.36" y="457.40" width="13.68" height="10.72" fill="#ea7a54" stroke="#7f8a94" stroke-width="0.3"/>
<rect x="80.04" y="457.40" width="13.68" height="10.72" fill="#f2ad78" stroke="#7f8a94" stroke-width="0.3"/>
<rect x="93.72" y="457.40" width="13.68" height="10.72" fill="#edeaab" stroke="#7f8a94" stroke-width="0.3"/>
<rect x="107.40" y="457.40" width="13.68" height="10.72" fill="#88a8bb" stroke="#7f8a94" stroke-width="0.3"/>
<rect x="121.08" y="457.40" width="13.68" height="10.72" fill="#f8d999" stroke="#7f8a94" stroke-width="0.3"/>
<rect x="134.76" y="457.40" width="13.68" height="10.72" fill="#7497c0" stroke="#7f8a94" stroke-width="0.3"/>
<rect x="148.44" y="457.40" width="13.68" height="10.72" fill="#5180ba" stroke="#7f8a94" stroke-width="0.3"/>
<rect x="162.12" y="457.40" width="13.68" height="10.72" fill="#628cbd" stroke="#7f8a94" stroke-width="0.3"/>
<rect x="175.80" y="457.40" width="13.68" height="10.72" fill="#628cbd" stroke="#7f8a94" stroke-width="0.3"/>
<rect x="189.48" y="457.40" width="13.68" height="10.72" fill="#5f89bc" stroke="#7f8a94" stroke-width="0.3"/>
<rect x="203.16" y="457.40" width="13.68" height="10.72" fill="#668ebe" stroke="#7f8a94" stroke-width="0.3"/>
<rect x="216.84" y="457.40" width="13.68" height="10.72" fill="#5f89bc" stroke="#7f8a94" stroke-width="0.3"/>
<rect x="230.52" y="457.40" width="13.68" height="10.72" fill="#e2e4ac" stroke="#7f8a94" stroke-width="0.3"/>
<rect x="244.20" y="457.40" width="13.68" height="10.72" fill="#b8cbb0" stroke="#7f8a94" stroke-width="0.3"/>
<rect x="257.88" y="457.40" width="13.68" height="10.72" fill="#aec4b2" stroke="#7f8a94" stroke-width="0.3"/>
<rect x="271.56" y="457.40" width="13.68" height="10.72" fill="#e2e4ac" stroke="#7f8a94" stroke-width="0.3"/>
<rect x="285.24" y="457.40" width="13.68" height="10.72" fill="#cbd7ad" stroke="#7f8a94" stroke-width="0.3"/>
<rect x="298.92" y="457.40" width="13.68" height="10.72" fill="#e8e7ab" stroke="#7f8a94" stroke-width="0.3"/>
<rect x="312.60" y="457.40" width="13.68" height="10.72" fill="#bfd0ae" stroke="#7f8a94" stroke-width="0.3"/>
<rect x="326.28" y="457.40" width="13.68" height="10.72" fill="#628cbd" stroke="#7f8a94" stroke-width="0.3"/>
<rect x="339.96" y="457.40" width="13.68" height="10.72" fill="#628cbd" stroke="#7f8a94" stroke-width="0.3"/>
<rect x="353.64" y="457.40" width="13.68" height="10.72" fill="#d0daad" stroke="#7f8a94" stroke-width="0.3"/>
<rect x="367.32" y="457.40" width="13.68" height="10.72" fill="#bfd0ae" stroke="#7f8a94" stroke-width="0.3"/>
<rect x="381.00" y="457.40" width="13.68" height="10.72" fill="#b1c7b1" stroke="#7f8a94" stroke-width="0.3"/>
<rect x="394.68" y="457.40" width="13.68" height="10.72" fill="#b8cbb0" stroke="#7f8a94" stroke-width="0.3"/>
<rect x="408.36" y="457.40" width="13.68" height="10.72" fill="#7497c0" stroke="#7f8a94" stroke-width="0.3"/>
<rect x="39.00" y="468.12" width="13.68" height="10.72" fill="#4373bc" stroke="#7f8a94" stroke-width="0.3"/>
<rect x="52.68" y="468.12" width="13.68" height="10.72" fill="#4171bc" stroke="#7f8a94" stroke-width="0.3"/>
<rect x="66.36" y="468.12" width="13.68" height="10.72" fill="#4373bc" stroke="#7f8a94" stroke-width="0.3"/>
<rect x="80.04" y="468.12" width="13.68" height="10.72" fill="#4171bc" stroke="#7f8a94" stroke-width="0.3"/>
<rect x="93.72" y="468.12" width="13.68" height="10.72" fill="#4373bc" stroke="#7f8a94" stroke-width="0.3"/>
<rect x="107.40" y="468.12" width="13.68" height="10.72" fill="#4373bc" stroke="#7f8a94" stroke-width="0.3"/>
<rect x="121.08" y="468.12" width="13.68" height="10.72" fill="#4676bc" stroke="#7f8a94" stroke-width="0.3"/>
<rect x="134.76" y="468.12" width="13.68" height="10.72" fill="#4171bc" stroke="#7f8a94" stroke-width="0.3"/>
<rect x="148.44" y="468.12" width="13.68" height="10.72" fill="#4171bc" stroke="#7f8a94" stroke-width="0.3"/>
<rect x="162.12" y="468.12" width="13.68" height="10.72" fill="#4171bc" stroke="#7f8a94" stroke-width="0.3"/>
<rect x="175.80" y="468.12" width="13.68" height="10.72" fill="#4171bc" stroke="#7f8a94" stroke-width="0.3"/>
<rect x="189.48" y="468.12" width="13.68" height="10.72" fill="#4171bc" stroke="#7f8a94" stroke-width="0.3"/>
<rect x="203.16" y="468.12" width="13.68" height="10.72" fill="#4171bc" stroke="#7f8a94" stroke-width="0.3"/>
<rect x="216.84" y="468.12" width="13.68" height="10.72" fill="#4171bc" stroke="#7f8a94" stroke-width="0.3"/>
<rect x="230.52" y="468.12" width="13.68" height="10.72" fill="#5885bb" stroke="#7f8a94" stroke-width="0.3"/>
<rect x="244.20" y="468.12" width="13.68" height="10.72" fill="#4c7cbb" stroke="#7f8a94" stroke-width="0.3"/>
<rect x="257.88" y="468.12" width="13.68" height="10.72" fill="#5885bb" stroke="#7f8a94" stroke-width="0.3"/>
<rect x="271.56" y="468.12" width="13.68" height="10.72" fill="#4c7cbb" stroke="#7f8a94" stroke-width="0.3"/>
<rect x="285.24" y="468.12" width="13.68" height="10.72" fill="#4878bb" stroke="#7f8a94" stroke-width="0.3"/>
<rect x="298.92" y="468.12" width="13.68" height="10.72" fill="#4878bb" stroke="#7f8a94" stroke-width="0.3"/>
<rect x="312.60" y="468.12" width="13.68" height="10.72" fill="#4676bc" stroke="#7f8a94" stroke-width="0.3"/>
<rect x="326.28" y="468.12" width="13.68" height="10.72" fill="#dce0ac" stroke="#7f8a94" stroke-width="0.3"/>
<rect x="339.96" y="468.12" width="13.68" height="10.72" fill="#b8cbb0" stroke="#7f8a94" stroke-width="0.3"/>
<rect x="353.64" y="468.12" width="13.68" height="10.72" fill="#9db9b6" stroke="#7f8a94" stroke-width="0.3"/>
<rect x="367.32" y="468.12" width="13.68" height="10.72" fill="#e2e4ac" stroke="#7f8a94" stroke-width="0.3"/>
<rect x="381.00" y="468.12" width="13.68" height="10.72" fill="#b8cbb0" stroke="#7f8a94" stroke-width="0.3"/>
<rect x="394.68" y="468.12" width="13.68" height="10.72" fill="#aec4b2" stroke="#7f8a94" stroke-width="0.3"/>
<rect x="408.36" y="468.12" width="13.68" height="10.72" fill="#7c9ebe" stroke="#7f8a94" stroke-width="0.3"/>
<rect x="39.00" y="478.84" width="13.68" height="10.72" fill="#5885bb" stroke="#7f8a94" stroke-width="0.3"/>
<rect x="52.68" y="478.84" width="13.68" height="10.72" fill="#5885bb" stroke="#7f8a94" stroke-width="0.3"/>
<rect x="66.36" y="478.84" width="13.68" height="10.72" fill="#4c7cbb" stroke="#7f8a94" stroke-width="0.3"/>
<rect x="80.04" y="478.84" width="13.68" height="10.72" fill="#f8e09e" stroke="#7f8a94" stroke-width="0.3"/>
<rect x="93.72" y="478.84" width="13.68" height="10.72" fill="#5885bb" stroke="#7f8a94" stroke-width="0.3"/>
<rect x="107.40" y="478.84" width="13.68" height="10.72" fill="#6d92bf" stroke="#7f8a94" stroke-width="0.3"/>
<rect x="121.08" y="478.84" width="13.68" height="10.72" fill="#5180ba" stroke="#7f8a94" stroke-width="0.3"/>
<rect x="134.76" y="478.84" width="13.68" height="10.72" fill="#4171bc" stroke="#7f8a94" stroke-width="0.3"/>
<rect x="148.44" y="478.84" width="13.68" height="10.72" fill="#4171bc" stroke="#7f8a94" stroke-width="0.3"/>
<rect x="162.12" y="478.84" width="13.68" height="10.72" fill="#4171bc" stroke="#7f8a94" stroke-width="0.3"/>
<rect x="175.80" y="478.84" width="13.68" height="10.72" fill="#4171bc" stroke="#7f8a94" stroke-width="0.3"/>
<rect x="189.48" y="478.84" width="13.68" height="10.72" fill="#4171bc" stroke="#7f8a94" stroke-width="0.3"/>
<rect x="203.16" y="478.84" width="13.68" height="10.72" fill="#4171bc" stroke="#7f8a94" stroke-width="0.3"/>
<rect x="216.84" y="478.84" width="13.68" height="10.72" fill="#4171bc" stroke="#7f8a94" stroke-width="0.3"/>
<rect x="230.52" y="478.84" width="13.68" height="10.72" fill="#4c7cbb" stroke="#7f8a94" stroke-width="0.3"/>
<rect x="244.20" y="478.84" width="13.68" height="10.72" fill="#4676bc" stroke="#7f8a94" stroke-width="0.3"/>
<rect x="257.88" y="478.84" width="13.68" height="10.72" fill="#4676bc" stroke="#7f8a94" stroke-width="0.3"/>
<rect x="271.56" y="478.84" width="13.68" height="10.72" fill="#4c7cbb" stroke="#7f8a94" stroke-width="0.3"/>
<rect x="285.24" y="478.84" width="13.68" height="10.72" fill="#4878bb" stroke="#7f8a94" stroke-width="0.3"/>
<rect x="298.92" y="478.84" width="13.68" height="10.72" fill="#a4beb4" stroke="#7f8a94" stroke-width="0.3"/>
<rect x="312.60" y="478.84" width="13.68" height="10.72" fill="#4c7cbb" stroke="#7f8a94" stroke-width="0.3"/>
<rect x="326.28" y="478.84" width="13.68" height="10.72" fill="#5180ba" stroke="#7f8a94" stroke-width="0.3"/>
<rect x="339.96" y="478.84" width="13.68" height="10.72" fill="#4c7cbb" stroke="#7f8a94" stroke-width="0.3"/>
<rect x="353.64" y="478.84" width="13.68" height="10.72" fill="#4676bc" stroke="#7f8a94" stroke-width="0.3"/>
<rect x="367.32" y="478.84" width="13.68" height="10.72" fill="#7497c0" stroke="#7f8a94" stroke-width="0.3"/>
<rect x="381.00" y="478.84" width="13.68" height="10.72" fill="#e2e4ac" stroke="#7f8a94" stroke-width="0.3"/>
<rect x="394.68" y="478.84" width="13.68" height="10.72" fill="#b1c7b1" stroke="#7f8a94" stroke-width="0.3"/>
<rect x="408.36" y="478.84" width="13.68" height="10.72" fill="#4676bc" stroke="#7f8a94" stroke-width="0.3"/>
<rect x="39.00" y="489.56" width="13.68" height="10.72" fill="#4171bc" stroke="#7f8a94" stroke-width="0.3"/>
<rect x="52.68" y="489.56" width="13.68" height="10.72" fill="#4171bc" stroke="#7f8a94" stroke-width="0.3"/>
<rect x="66.36" y="489.56" width="13.68" height="10.72" fill="#4171bc" stroke="#7f8a94" stroke-width="0.3"/>
<rect x="80.04" y="489.56" width="13.68" height="10.72" fill="#4171bc" stroke="#7f8a94" stroke-width="0.3"/>
<rect x="93.72" y="489.56" width="13.68" height="10.72" fill="#4171bc" stroke="#7f8a94" stroke-width="0.3"/>
<rect x="107.40" y="489.56" width="13.68" height="10.72" fill="#4171bc" stroke="#7f8a94" stroke-width="0.3"/>
<rect x="121.08" y="489.56" width="13.68" height="10.72" fill="#4171bc" stroke="#7f8a94" stroke-width="0.3"/>
<rect x="134.76" y="489.56" width="13.68" height="10.72" fill="#4171bc" stroke="#7f8a94" stroke-width="0.3"/>
<rect x="148.44" y="489.56" width="13.68" height="10.72" fill="#4171bc" stroke="#7f8a94" stroke-width="0.3"/>
<rect x="162.12" y="489.56" width="13.68" height="10.72" fill="#4171bc" stroke="#7f8a94" stroke-width="0.3"/>
<rect x="175.80" y="489.56" width="13.68" height="10.72" fill="#4171bc" stroke="#7f8a94" stroke-width="0.3"/>
<rect x="189.48" y="489.56" width="13.68" height="10.72" fill="#4171bc" stroke="#7f8a94" stroke-width="0.3"/>
<rect x="203.16" y="489.56" width="13.68" height="10.72" fill="#4171bc" stroke="#7f8a94" stroke-width="0.3"/>
<rect x="216.84" y="489.56" width="13.68" height="10.72" fill="#4171bc" stroke="#7f8a94" stroke-width="0.3"/>
<rect x="230.52" y="489.56" width="13.68" height="10.72" fill="#4676bc" stroke="#7f8a94" stroke-width="0.3"/>
<rect x="244.20" y="489.56" width="13.68" height="10.72" fill="#4676bc" stroke="#7f8a94" stroke-width="0.3"/>
<rect x="257.88" y="489.56" width="13.68" height="10.72" fill="#4676bc" stroke="#7f8a94" stroke-width="0.3"/>
<rect x="271.56" y="489.56" width="13.68" height="10.72" fill="#4676bc" stroke="#7f8a94" stroke-width="0.3"/>
<rect x="285.24" y="489.56" width="13.68" height="10.72" fill="#4676bc" stroke="#7f8a94" stroke-width="0.3"/>
<rect x="298.92" y="489.56" width="13.68" height="10.72" fill="#4676bc" stroke="#7f8a94" stroke-width="0.3"/>
<rect x="312.60" y="489.56" width="13.68" height="10.72" fill="#4676bc" stroke="#7f8a94" stroke-width="0.3"/>
<rect x="326.28" y="489.56" width="13.68" height="10.72" fill="#4373bc" stroke="#7f8a94" stroke-width="0.3"/>
<rect x="339.96" y="489.56" width="13.68" height="10.72" fill="#4373bc" stroke="#7f8a94" stroke-width="0.3"/>
<rect x="353.64" y="489.56" width="13.68" height="10.72" fill="#4373bc" stroke="#7f8a94" stroke-width="0.3"/>
<rect x="367.32" y="489.56" width="13.68" height="10.72" fill="#4373bc" stroke="#7f8a94" stroke-width="0.3"/>
<rect x="381.00" y="489.56" width="13.68" height="10.72" fill="#4373bc" stroke="#7f8a94" stroke-width="0.3"/>
<rect x="394.68" y="489.56" width="13.68" height="10.72" fill="#4373bc" stroke="#7f8a94" stroke-width="0.3"/>
<rect x="408.36" y="489.56" width="13.68" height="10.72" fill="#4373bc" stroke="#7f8a94" stroke-width="0.3"/>
<rect x="39.00" y="500.28" width="13.68" height="10.72" fill="#f8d999" stroke="#7f8a94" stroke-width="0.3"/>
<rect x="52.68" y="500.28" width="13.68" height="10.72" fill="#aec4b2" stroke="#7f8a94" stroke-width="0.3"/>
<rect x="66.36" y="500.28" width="13.68" height="10.72" fill="#7497c0" stroke="#7f8a94" stroke-width="0.3"/>
<rect x="80.04" y="500.28" width="13.68" height="10.72" fill="#e2e4ac" stroke="#7f8a94" stroke-width="0.3"/>
<rect x="93.72" y="500.28" width="13.68" height="10.72" fill="#7c9ebe" stroke="#7f8a94" stroke-width="0.3"/>
<rect x="107.40" y="500.28" width="13.68" height="10.72" fill="#ea7a54" stroke="#7f8a94" stroke-width="0.3"/>
<rect x="121.08" y="500.28" width="13.68" height="10.72" fill="#f7c68c" stroke="#7f8a94" stroke-width="0.3"/>
<rect x="134.76" y="500.28" width="13.68" height="10.72" fill="#f9f1aa" stroke="#7f8a94" stroke-width="0.3"/>
<rect x="148.44" y="500.28" width="13.68" height="10.72" fill="#d6ddac" stroke="#7f8a94" stroke-width="0.3"/>
<rect x="162.12" y="500.28" width="13.68" height="10.72" fill="#cbd7ad" stroke="#7f8a94" stroke-width="0.3"/>
<rect x="175.80" y="500.28" width="13.68" height="10.72" fill="#7497c0" stroke="#7f8a94" stroke-width="0.3"/>
<rect x="189.48" y="500.28" width="13.68" height="10.72" fill="#f9f1aa" stroke="#7f8a94" stroke-width="0.3"/>
<rect x="203.16" y="500.28" width="13.68" height="10.72" fill="#7497c0" stroke="#7f8a94" stroke-width="0.3"/>
<rect x="216.84" y="500.28" width="13.68" height="10.72" fill="#e8e7ab" stroke="#7f8a94" stroke-width="0.3"/>
<rect x="230.52" y="500.28" width="13.68" height="10.72" fill="#4171bc" stroke="#7f8a94" stroke-width="0.3"/>
<rect x="244.20" y="500.28" width="13.68" height="10.72" fill="#4171bc" stroke="#7f8a94" stroke-width="0.3"/>
<rect x="257.88" y="500.28" width="13.68" height="10.72" fill="#4171bc" stroke="#7f8a94" stroke-width="0.3"/>
<rect x="271.56" y="500.28" width="13.68" height="10.72" fill="#4171bc" stroke="#7f8a94" stroke-width="0.3"/>
<rect x="285.24" y="500.28" width="13.68" height="10.72" fill="#4171bc" stroke="#7f8a94" stroke-width="0.3"/>
<rect x="298.92" y="500.28" width="13.68" height="10.72" fill="#4171bc" stroke="#7f8a94" stroke-width="0.3"/>
<rect x="312.60" y="500.28" width="13.68" height="10.72" fill="#4171bc" stroke="#7f8a94" stroke-width="0.3"/>
<rect x="326.28" y="500.28" width="13.68" height="10.72" fill="#da352e" stroke="#7f8a94" stroke-width="0.3"/>
<rect x="339.96" y="500.28" width="13.68" height="10.72" fill="#dce0ac" stroke="#7f8a94" stroke-width="0.3"/>
<rect x="353.64" y="500.28" width="13.68" height="10.72" fill="#bfd0ae" stroke="#7f8a94" stroke-width="0.3"/>
<rect x="367.32" y="500.28" width="13.68" height="10.72" fill="#f8d697" stroke="#7f8a94" stroke-width="0.3"/>
<rect x="381.00" y="500.28" width="13.68" height="10.72" fill="#f4b57f" stroke="#7f8a94" stroke-width="0.3"/>
<rect x="394.68" y="500.28" width="13.68" height="10.72" fill="#ea7a54" stroke="#7f8a94" stroke-width="0.3"/>
<rect x="408.36" y="500.28" width="13.68" height="10.72" fill="#f9f1aa" stroke="#7f8a94" stroke-width="0.3"/>
<rect x="39.00" y="511.00" width="13.68" height="10.72" fill="#da372e" stroke="#7f8a94" stroke-width="0.3"/>
<rect x="52.68" y="511.00" width="13.68" height="10.72" fill="#ea7a54" stroke="#7f8a94" stroke-width="0.3"/>
<rect x="66.36" y="511.00" width="13.68" height="10.72" fill="#e8704c" stroke="#7f8a94" stroke-width="0.3"/>
<rect x="80.04" y="511.00" width="13.68" height="10.72" fill="#e46044" stroke="#7f8a94" stroke-width="0.3"/>
<rect x="93.72" y="511.00" width="13.68" height="10.72" fill="#7497c0" stroke="#7f8a94" stroke-width="0.3"/>
<rect x="107.40" y="511.00" width="13.68" height="10.72" fill="#6d92bf" stroke="#7f8a94" stroke-width="0.3"/>
<rect x="121.08" y="511.00" width="13.68" height="10.72" fill="#7c9ebe" stroke="#7f8a94" stroke-width="0.3"/>
<rect x="134.76" y="511.00" width="13.68" height="10.72" fill="#e8704c" stroke="#7f8a94" stroke-width="0.3"/>
<rect x="148.44" y="511.00" width="13.68" height="10.72" fill="#ef9a6a" stroke="#7f8a94" stroke-width="0.3"/>
<rect x="162.12" y="511.00" width="13.68" height="10.72" fill="#d6ddac" stroke="#7f8a94" stroke-width="0.3"/>
<rect x="175.80" y="511.00" width="13.68" height="10.72" fill="#dce0ac" stroke="#7f8a94" stroke-width="0.3"/>
<rect x="189.48" y="511.00" width="13.68" height="10.72" fill="#f9f1aa" stroke="#7f8a94" stroke-width="0.3"/>
<rect x="203.16" y="511.00" width="13.68" height="10.72" fill="#e8704c" stroke="#7f8a94" stroke-width="0.3"/>
<rect x="216.84" y="511.00" width="13.68" height="10.72" fill="#e66646" stroke="#7f8a94" stroke-width="0.3"/>
<rect x="230.52" y="511.00" width="13.68" height="10.72" fill="#dce0ac" stroke="#7f8a94" stroke-width="0.3"/>
<rect x="244.20" y="511.00" width="13.68" height="10.72" fill="#7497c0" stroke="#7f8a94" stroke-width="0.3"/>
<rect x="257.88" y="511.00" width="13.68" height="10.72" fill="#7c9ebe" stroke="#7f8a94" stroke-width="0.3"/>
<rect x="271.56" y="511.00" width="13.68" height="10.72" fill="#6d92bf" stroke="#7f8a94" stroke-width="0.3"/>
<rect x="285.24" y="511.00" width="13.68" height="10.72" fill="#5f89bc" stroke="#7f8a94" stroke-width="0.3"/>
<rect x="298.92" y="511.00" width="13.68" height="10.72" fill="#7c9ebe" stroke="#7f8a94" stroke-width="0.3"/>
<rect x="312.60" y="511.00" width="13.68" height="10.72" fill="#9db9b6" stroke="#7f8a94" stroke-width="0.3"/>
<rect x="326.28" y="511.00" width="13.68" height="10.72" fill="#9db9b6" stroke="#7f8a94" stroke-width="0.3"/>
<rect x="339.96" y="511.00" width="13.68" height="10.72" fill="#628cbd" stroke="#7f8a94" stroke-width="0.3"/>
<rect x="353.64" y="511.00" width="13.68" height="10.72" fill="#5f89bc" stroke="#7f8a94" stroke-width="0.3"/>
<rect x="367.32" y="511.00" width="13.68" height="10.72" fill="#5885bb" stroke="#7f8a94" stroke-width="0.3"/>
<rect x="381.00" y="511.00" width="13.68" height="10.72" fill="#628cbd" stroke="#7f8a94" stroke-width="0.3"/>
<rect x="394.68" y="511.00" width="13.68" height="10.72" fill="#5180ba" stroke="#7f8a94" stroke-width="0.3"/>
<rect x="408.36" y="511.00" width="13.68" height="10.72" fill="#9db9b6" stroke="#7f8a94" stroke-width="0.3"/>
<text transform="translate(424.94,464.96) scale(0.87,1)" class="rl">ZmNRT2.5</text>
<text transform="translate(424.94,475.68) scale(0.87,1)" class="rl">ZmNRT3.1B</text>
<text transform="translate(424.94,486.40) scale(0.87,1)" class="rl">ZmNRT3.1A</text>
<text transform="translate(424.94,497.12) scale(0.87,1)" class="rl">ZmNRT2.1</text>
<text transform="translate(424.94,507.84) scale(0.87,1)" class="rl">ZmNPF6.6</text>
<text transform="translate(424.94,518.56) scale(0.87,1)" class="rl">ZmNPF6.8</text>
<text transform="translate(50.84,526.42) rotate(-38)" class="cl">Xu178-DN0</text>
<text transform="translate(64.52,526.42) rotate(-38)" class="cl">Xu178-DN96</text>
<text transform="translate(78.20,526.42) rotate(-38)" class="cl">Xu178-RN1</text>
<text transform="translate(91.88,526.42) rotate(-38)" class="cl">Xu178-RN3</text>
<text transform="translate(105.56,526.42) rotate(-38)" class="cl">Xu178-RN6</text>
<text transform="translate(119.24,526.42) rotate(-38)" class="cl">Xu178-RN12</text>
<text transform="translate(132.92,526.42) rotate(-38)" class="cl">Xu178-RN24</text>
<text transform="translate(146.60,526.42) rotate(-38)" class="cl">B73-DN0</text>
<text transform="translate(160.28,526.42) rotate(-38)" class="cl">B73-DN96</text>
<text transform="translate(173.96,526.42) rotate(-38)" class="cl">B73-RN1</text>
<text transform="translate(187.64,526.42) rotate(-38)" class="cl">B73-RN3</text>
<text transform="translate(201.32,526.42) rotate(-38)" class="cl">B73-RN6</text>
<text transform="translate(215.00,526.42) rotate(-38)" class="cl">B73-RN12</text>
<text transform="translate(228.68,526.42) rotate(-38)" class="cl">B73-RN24</text>
<text transform="translate(242.36,526.42) rotate(-38)" class="cl">Mo17-DN0</text>
<text transform="translate(256.04,526.42) rotate(-38)" class="cl">Mo17-DN96</text>
<text transform="translate(269.72,526.42) rotate(-38)" class="cl">Mo17-RN1</text>
<text transform="translate(283.40,526.42) rotate(-38)" class="cl">Mo17-RN3</text>
<text transform="translate(297.08,526.42) rotate(-38)" class="cl">Mo17-RN6</text>
<text transform="translate(310.76,526.42) rotate(-38)" class="cl">Mo17-RN12</text>
<text transform="translate(324.44,526.42) rotate(-38)" class="cl">Mo17-RN24</text>
<text transform="translate(338.12,526.42) rotate(-38)" class="cl">Zong3-DN0</text>
<text transform="translate(351.80,526.42) rotate(-38)" class="cl">Zong3-DN96</text>
<text transform="translate(365.48,526.42) rotate(-38)" class="cl">Zong3-RN1</text>
<text transform="translate(379.16,526.42) rotate(-38)" class="cl">Zong3-RN3</text>
<text transform="translate(392.84,526.42) rotate(-38)" class="cl">Zong3-RN6</text>
<text transform="translate(406.52,526.42) rotate(-38)" class="cl">Zong3-RN12</text>
<text transform="translate(420.20,526.42) rotate(-38)" class="cl">Zong3-RN24</text>
<path d="M39.0,462.76H24.6V481.3H29.4 M39.0,473.48H29.4V489.1H34.5 M39.0,484.20H34.5V494.92H39.0 M24.6,462.76V481.3 M24.6,472.3H20.2V510.8H24.9 M39.0,505.64H24.9V516.36H39.0" fill="none" stroke="#4d4d4d" stroke-width="0.8"/>
<defs><linearGradient id="g468" x1="0" y1="1" x2="0" y2="0"><stop offset="0.000" stop-color="#3a6bbd"/><stop offset="0.086" stop-color="#5180ba"/><stop offset="0.172" stop-color="#7497c0"/><stop offset="0.258" stop-color="#9db9b6"/><stop offset="0.344" stop-color="#bfd0ae"/><stop offset="0.430" stop-color="#f9f1aa"/><stop offset="0.544" stop-color="#f8cf92"/><stop offset="0.658" stop-color="#f1a472"/><stop offset="0.772" stop-color="#e8704c"/><stop offset="0.886" stop-color="#dc3c30"/><stop offset="1.000" stop-color="#d42428"/></linearGradient></defs>
<rect x="461.9" y="468.0" width="7" height="42.69999999999999" fill="url(#g468)"/>
<line x1="468.9" y1="468.00" x2="470.09999999999997" y2="468.00" stroke="#555" stroke-width="0.4"/>
<text x="470.90" y="469.50" class="bl">22.63</text>
<line x1="468.9" y1="472.74" x2="470.09999999999997" y2="472.74" stroke="#555" stroke-width="0.4"/>
<text x="470.90" y="474.24" class="bl">16.00</text>
<line x1="468.9" y1="477.49" x2="470.09999999999997" y2="477.49" stroke="#555" stroke-width="0.4"/>
<text x="470.90" y="478.99" class="bl">11.31</text>
<line x1="468.9" y1="482.23" x2="470.09999999999997" y2="482.23" stroke="#555" stroke-width="0.4"/>
<text x="470.90" y="483.73" class="bl">8.00</text>
<line x1="468.9" y1="486.98" x2="470.09999999999997" y2="486.98" stroke="#555" stroke-width="0.4"/>
<text x="470.90" y="488.48" class="bl">5.66</text>
<line x1="468.9" y1="491.72" x2="470.09999999999997" y2="491.72" stroke="#555" stroke-width="0.4"/>
<text x="470.90" y="493.22" class="bl">4.00</text>
<line x1="468.9" y1="496.47" x2="470.09999999999997" y2="496.47" stroke="#555" stroke-width="0.4"/>
<text x="470.90" y="497.97" class="bl">2.83</text>
<line x1="468.9" y1="501.21" x2="470.09999999999997" y2="501.21" stroke="#555" stroke-width="0.4"/>
<text x="470.90" y="502.71" class="bl">2.00</text>
<line x1="468.9" y1="505.96" x2="470.09999999999997" y2="505.96" stroke="#555" stroke-width="0.4"/>
<text x="470.90" y="507.46" class="bl">1.41</text>
<line x1="468.9" y1="510.70" x2="470.09999999999997" y2="510.70" stroke="#555" stroke-width="0.4"/>
<text x="470.90" y="512.20" class="bl">1.00</text>
</svg></body></html>
